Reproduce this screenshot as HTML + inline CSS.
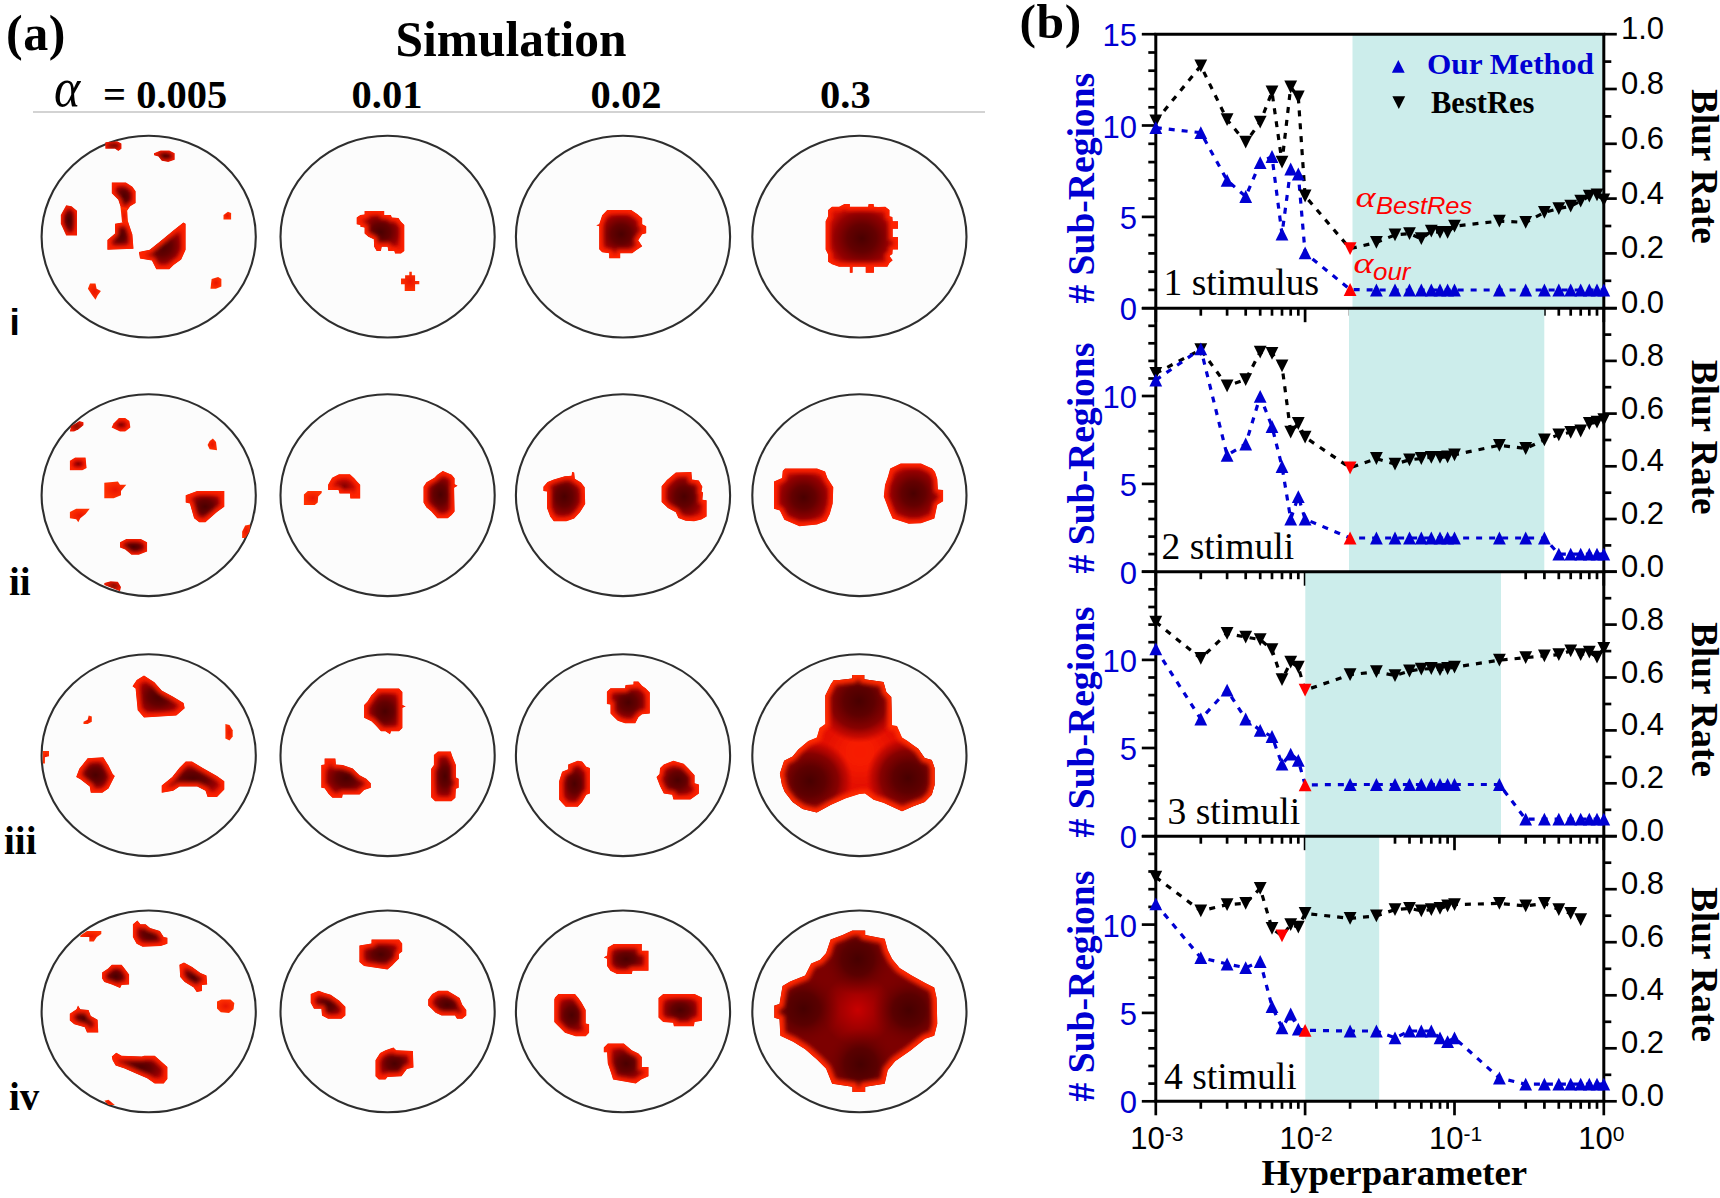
<!DOCTYPE html>
<html><head><meta charset="utf-8"><style>
html,body{margin:0;padding:0;background:#fff;overflow:hidden;}
svg{display:block;}
</style></head><body>
<svg width="1720" height="1198" viewBox="0 0 1720 1198">
<rect width="1720" height="1198" fill="#fff"/>
<defs><radialGradient id="gd" cx="50%" cy="50%" r="50%"><stop offset="0" stop-color="#4a0000"/><stop offset="0.4" stop-color="#640000"/><stop offset="0.75" stop-color="#940000"/><stop offset="1" stop-color="#cc0c00"/></radialGradient><radialGradient id="gm" cx="50%" cy="50%" r="50%"><stop offset="0" stop-color="#800000"/><stop offset="0.6" stop-color="#c80a00"/><stop offset="1" stop-color="#f82400"/></radialGradient><radialGradient id="gb" cx="50%" cy="50%" r="50%"><stop offset="0" stop-color="#e81400"/><stop offset="1" stop-color="#ff3000"/></radialGradient><radialGradient id="gl" cx="50%" cy="50%" r="50%"><stop offset="0" stop-color="#480000"/><stop offset="0.35" stop-color="#5e0000"/><stop offset="0.65" stop-color="#820000" stop-opacity="0.95"/><stop offset="0.85" stop-color="#a80000" stop-opacity="0.6"/><stop offset="1" stop-color="#c00000" stop-opacity="0"/></radialGradient><radialGradient id="gl2" cx="50%" cy="50%" r="50%"><stop offset="0" stop-color="#460000"/><stop offset="0.45" stop-color="#5a0000"/><stop offset="1" stop-color="#7c0000" stop-opacity="0"/></radialGradient><radialGradient id="gc" cx="50%" cy="50%" r="50%"><stop offset="0" stop-color="#c80000"/><stop offset="1" stop-color="#c80000" stop-opacity="0"/></radialGradient><filter id="fb" x="-30%" y="-30%" width="160%" height="160%"><feGaussianBlur stdDeviation="2.2"/></filter><filter id="fb2" x="-50%" y="-50%" width="200%" height="200%"><feGaussianBlur stdDeviation="8"/></filter></defs>
<ellipse cx="148.7" cy="236.65" rx="107.1" ry="100.9" fill="#fcfcfc" stroke="#2e2e2e" stroke-width="2.1"/>
<clipPath id="c1"><polygon points="105.3,142.3 117.2,141.2 121.5,143.4 121.5,148.8 118.3,151.0 115.0,148.8 105.3,148.8"/></clipPath><g clip-path="url(#c1)"><polygon points="105.3,142.3 117.2,141.2 121.5,143.4 121.5,148.8 118.3,151.0 115.0,148.8 105.3,148.8" fill="url(#gd)"/><polygon points="105.3,142.3 117.2,141.2 121.5,143.4 121.5,148.8 118.3,151.0 115.0,148.8 105.3,148.8" fill="none" stroke="#ff2400" stroke-width="3.0" filter="url(#fb)"/></g>
<clipPath id="c2"><polygon points="154.0,153.2 160.6,150.4 169.3,150.4 174.7,153.2 174.7,159.7 168.2,161.9 161.7,160.8 158.4,156.4 154.0,155.3"/></clipPath><g clip-path="url(#c2)"><polygon points="154.0,153.2 160.6,150.4 169.3,150.4 174.7,153.2 174.7,159.7 168.2,161.9 161.7,160.8 158.4,156.4 154.0,155.3" fill="url(#gd)"/><polygon points="154.0,153.2 160.6,150.4 169.3,150.4 174.7,153.2 174.7,159.7 168.2,161.9 161.7,160.8 158.4,156.4 154.0,155.3" fill="none" stroke="#ff2400" stroke-width="3.22" filter="url(#fb)"/></g>
<clipPath id="c3"><polygon points="111.8,182.5 125.9,182.5 132.4,186.8 135.6,191.2 135.6,203.1 130.2,206.3 127.0,210.7 121.5,209.6 118.3,199.8 111.8,193.3"/></clipPath><g clip-path="url(#c3)"><polygon points="111.8,182.5 125.9,182.5 132.4,186.8 135.6,191.2 135.6,203.1 130.2,206.3 127.0,210.7 121.5,209.6 118.3,199.8 111.8,193.3" fill="url(#gd)"/><polygon points="111.8,182.5 125.9,182.5 132.4,186.8 135.6,191.2 135.6,203.1 130.2,206.3 127.0,210.7 121.5,209.6 118.3,199.8 111.8,193.3" fill="none" stroke="#ff2400" stroke-width="6.664" filter="url(#fb)"/></g>
<polygon points="120.5,207.0 127.0,208.0 128.0,222.0 125.0,225.0 122.0,222.0" fill="url(#gb)"/>
<clipPath id="c5"><polygon points="115.0,223.7 128.0,221.5 132.4,234.6 133.5,248.7 107.4,249.8 107.4,240.0 115.0,233.5"/></clipPath><g clip-path="url(#c5)"><polygon points="115.0,223.7 128.0,221.5 132.4,234.6 133.5,248.7 107.4,249.8 107.4,240.0 115.0,233.5" fill="url(#gd)"/><polygon points="115.0,223.7 128.0,221.5 132.4,234.6 133.5,248.7 107.4,249.8 107.4,240.0 115.0,233.5" fill="none" stroke="#ff2400" stroke-width="7.307999999999999" filter="url(#fb)"/></g>
<clipPath id="c6"><polygon points="66.2,205.3 71.6,206.3 77.0,210.7 77.0,235.6 66.2,235.6 60.8,223.7 60.8,215.0"/></clipPath><g clip-path="url(#c6)"><polygon points="66.2,205.3 71.6,206.3 77.0,210.7 77.0,235.6 66.2,235.6 60.8,223.7 60.8,215.0" fill="url(#gd)"/><polygon points="66.2,205.3 71.6,206.3 77.0,210.7 77.0,235.6 66.2,235.6 60.8,223.7 60.8,215.0" fill="none" stroke="#ff2400" stroke-width="4.536000000000001" filter="url(#fb)"/></g>
<clipPath id="c7"><polygon points="183.4,222.6 185.6,223.7 185.6,249.8 181.2,259.5 173.6,264.9 169.3,269.3 156.3,269.3 151.9,260.6 140.0,258.4 138.9,251.9 149.7,249.8 160.6,241.1 173.6,230.2"/></clipPath><g clip-path="url(#c7)"><polygon points="183.4,222.6 185.6,223.7 185.6,249.8 181.2,259.5 173.6,264.9 169.3,269.3 156.3,269.3 151.9,260.6 140.0,258.4 138.9,251.9 149.7,249.8 160.6,241.1 173.6,230.2" fill="url(#gd)"/><polygon points="183.4,222.6 185.6,223.7 185.6,249.8 181.2,259.5 173.6,264.9 169.3,269.3 156.3,269.3 151.9,260.6 140.0,258.4 138.9,251.9 149.7,249.8 160.6,241.1 173.6,230.2" fill="none" stroke="#ff2400" stroke-width="8.0" filter="url(#fb)"/></g>
<polygon points="223.5,215.0 227.9,211.8 231.1,212.9 231.1,219.4 223.5,219.4" fill="url(#gb)"/>
<polygon points="90.0,283.4 95.5,283.4 96.6,288.8 100.9,291.0 97.7,295.3 95.5,299.7 92.2,295.3 87.9,288.8" fill="url(#gb)"/>
<polygon points="211.6,279.0 218.1,276.9 221.4,279.0 221.4,286.6 215.9,288.8 210.5,288.8" fill="url(#gb)"/>
<ellipse cx="387.6" cy="236.65" rx="107.1" ry="100.9" fill="#fcfcfc" stroke="#2e2e2e" stroke-width="2.1"/>
<clipPath id="c11"><polygon points="364.6,210.9 384.2,210.9 384.2,215.0 390.9,215.0 391.8,217.5 398.4,218.0 401.0,221.7 404.3,225.1 404.3,250.9 401.0,253.4 395.1,253.4 394.3,250.9 388.4,250.9 387.6,246.8 381.7,246.8 380.9,250.9 376.7,250.9 374.2,246.8 373.8,239.2 368.4,236.7 364.6,233.4 364.6,227.6 360.4,226.7 360.4,225.1 356.7,224.2 356.7,217.5 360.4,215.0 364.6,214.6"/></clipPath><g clip-path="url(#c11)"><polygon points="364.6,210.9 384.2,210.9 384.2,215.0 390.9,215.0 391.8,217.5 398.4,218.0 401.0,221.7 404.3,225.1 404.3,250.9 401.0,253.4 395.1,253.4 394.3,250.9 388.4,250.9 387.6,246.8 381.7,246.8 380.9,250.9 376.7,250.9 374.2,246.8 373.8,239.2 368.4,236.7 364.6,233.4 364.6,227.6 360.4,226.7 360.4,225.1 356.7,224.2 356.7,217.5 360.4,215.0 364.6,214.6" fill="url(#gd)"/><polygon points="364.6,210.9 384.2,210.9 384.2,215.0 390.9,215.0 391.8,217.5 398.4,218.0 401.0,221.7 404.3,225.1 404.3,250.9 401.0,253.4 395.1,253.4 394.3,250.9 388.4,250.9 387.6,246.8 381.7,246.8 380.9,250.9 376.7,250.9 374.2,246.8 373.8,239.2 368.4,236.7 364.6,233.4 364.6,227.6 360.4,226.7 360.4,225.1 356.7,224.2 356.7,217.5 360.4,215.0 364.6,214.6" fill="none" stroke="#ff2400" stroke-width="8.0" filter="url(#fb)"/></g>
<polygon points="405.1,275.2 409.3,275.2 409.3,271.8 411.8,271.8 411.8,275.2 415.1,275.2 415.1,281.0 419.3,281.0 419.3,284.3 415.1,284.3 415.1,291.0 404.7,291.0 404.7,284.3 401.0,284.3 401.0,278.5 405.1,278.5" fill="url(#gb)"/>
<ellipse cx="623.0" cy="236.65" rx="107.1" ry="100.9" fill="#fcfcfc" stroke="#2e2e2e" stroke-width="2.1"/>
<clipPath id="c13"><polygon points="607.2,210.1 631.2,210.1 637.2,214.1 642.2,218.2 642.2,224.2 646.2,226.2 646.2,233.2 642.2,234.2 638.2,240.2 642.2,246.2 636.2,250.2 632.2,253.2 620.2,253.2 620.2,258.2 609.2,258.2 609.2,253.2 602.2,252.2 599.2,249.2 599.2,226.2 596.2,225.2 599.2,224.2 602.2,215.2"/></clipPath><g clip-path="url(#c13)"><polygon points="607.2,210.1 631.2,210.1 637.2,214.1 642.2,218.2 642.2,224.2 646.2,226.2 646.2,233.2 642.2,234.2 638.2,240.2 642.2,246.2 636.2,250.2 632.2,253.2 620.2,253.2 620.2,258.2 609.2,258.2 609.2,253.2 602.2,252.2 599.2,249.2 599.2,226.2 596.2,225.2 599.2,224.2 602.2,215.2" fill="url(#gd)"/><polygon points="607.2,210.1 631.2,210.1 637.2,214.1 642.2,218.2 642.2,224.2 646.2,226.2 646.2,233.2 642.2,234.2 638.2,240.2 642.2,246.2 636.2,250.2 632.2,253.2 620.2,253.2 620.2,258.2 609.2,258.2 609.2,253.2 602.2,252.2 599.2,249.2 599.2,226.2 596.2,225.2 599.2,224.2 602.2,215.2" fill="none" stroke="#ff2400" stroke-width="8.0" filter="url(#fb)"/></g>
<ellipse cx="859.4" cy="236.65" rx="107.1" ry="100.9" fill="#fcfcfc" stroke="#2e2e2e" stroke-width="2.1"/>
<clipPath id="c14"><polygon points="828.1,209.9 832.0,206.7 839.1,206.7 844.5,203.9 849.8,203.9 849.8,206.7 868.2,206.7 868.6,203.9 873.6,203.9 873.9,206.7 878.2,207.1 885.3,206.7 889.5,209.9 889.5,216.3 892.4,217.0 892.7,221.3 898.0,221.3 898.0,228.7 892.7,228.7 892.7,236.9 898.0,236.9 898.0,249.6 892.7,249.6 892.4,253.9 889.5,256.0 892.7,260.3 889.5,263.1 887.4,266.7 873.9,266.7 873.9,272.7 865.7,272.7 865.7,266.7 852.6,266.7 852.6,272.7 849.8,272.7 849.8,266.7 839.1,266.7 832.0,264.2 828.1,261.7 828.1,254.6 825.6,249.6 825.6,221.3 828.1,216.3"/></clipPath><g clip-path="url(#c14)"><polygon points="828.1,209.9 832.0,206.7 839.1,206.7 844.5,203.9 849.8,203.9 849.8,206.7 868.2,206.7 868.6,203.9 873.6,203.9 873.9,206.7 878.2,207.1 885.3,206.7 889.5,209.9 889.5,216.3 892.4,217.0 892.7,221.3 898.0,221.3 898.0,228.7 892.7,228.7 892.7,236.9 898.0,236.9 898.0,249.6 892.7,249.6 892.4,253.9 889.5,256.0 892.7,260.3 889.5,263.1 887.4,266.7 873.9,266.7 873.9,272.7 865.7,272.7 865.7,266.7 852.6,266.7 852.6,272.7 849.8,272.7 849.8,266.7 839.1,266.7 832.0,264.2 828.1,261.7 828.1,254.6 825.6,249.6 825.6,221.3 828.1,216.3" fill="url(#gd)"/><polygon points="828.1,209.9 832.0,206.7 839.1,206.7 844.5,203.9 849.8,203.9 849.8,206.7 868.2,206.7 868.6,203.9 873.6,203.9 873.9,206.7 878.2,207.1 885.3,206.7 889.5,209.9 889.5,216.3 892.4,217.0 892.7,221.3 898.0,221.3 898.0,228.7 892.7,228.7 892.7,236.9 898.0,236.9 898.0,249.6 892.7,249.6 892.4,253.9 889.5,256.0 892.7,260.3 889.5,263.1 887.4,266.7 873.9,266.7 873.9,272.7 865.7,272.7 865.7,266.7 852.6,266.7 852.6,272.7 849.8,272.7 849.8,266.7 839.1,266.7 832.0,264.2 828.1,261.7 828.1,254.6 825.6,249.6 825.6,221.3 828.1,216.3" fill="none" stroke="#ff2400" stroke-width="8.0" filter="url(#fb)"/></g>
<ellipse cx="148.7" cy="495.2" rx="107.1" ry="100.9" fill="#fcfcfc" stroke="#2e2e2e" stroke-width="2.1"/>
<clipPath id="c15"><polygon points="71.0,426.3 79.3,421.1 83.5,422.2 83.5,425.3 78.3,429.5 74.1,431.6 69.9,431.6"/></clipPath><g clip-path="url(#c15)"><polygon points="71.0,426.3 79.3,421.1 83.5,422.2 83.5,425.3 78.3,429.5 74.1,431.6 69.9,431.6" fill="url(#gd)"/><polygon points="71.0,426.3 79.3,421.1 83.5,422.2 83.5,425.3 78.3,429.5 74.1,431.6 69.9,431.6" fill="none" stroke="#ff2400" stroke-width="3.0" filter="url(#fb)"/></g>
<clipPath id="c16"><polygon points="113.7,423.2 118.9,418.0 125.2,418.0 129.4,421.1 130.4,427.4 125.2,431.6 120.0,431.6 111.6,427.4"/></clipPath><g clip-path="url(#c16)"><polygon points="113.7,423.2 118.9,418.0 125.2,418.0 129.4,421.1 130.4,427.4 125.2,431.6 120.0,431.6 111.6,427.4" fill="url(#gm)"/><polygon points="113.7,423.2 118.9,418.0 125.2,418.0 129.4,421.1 130.4,427.4 125.2,431.6 120.0,431.6 111.6,427.4" fill="none" stroke="#ff2400" stroke-width="3.808000000000007" filter="url(#fb)"/></g>
<polygon points="209.7,441.0 212.9,438.4 216.0,442.0 217.0,450.3 209.7,449.3 207.6,445.1" fill="url(#gb)"/>
<clipPath id="c18"><polygon points="69.9,460.8 75.1,457.6 85.6,457.6 86.6,468.1 82.4,470.2 69.9,470.2"/></clipPath><g clip-path="url(#c18)"><polygon points="69.9,460.8 75.1,457.6 85.6,457.6 86.6,468.1 82.4,470.2 69.9,470.2" fill="url(#gm)"/><polygon points="69.9,460.8 75.1,457.6 85.6,457.6 86.6,468.1 82.4,470.2 69.9,470.2" fill="none" stroke="#ff2400" stroke-width="3.5279999999999907" filter="url(#fb)"/></g>
<polygon points="104.3,482.7 117.9,481.6 120.0,484.8 126.3,484.8 121.0,491.0 121.0,495.2 113.7,498.3 104.3,498.3" fill="url(#gb)"/>
<polygon points="69.9,511.9 76.2,508.8 89.7,508.8 85.6,514.0 80.3,518.2 78.3,522.3 76.2,519.2 69.9,518.2" fill="url(#gb)"/>
<clipPath id="c21"><polygon points="185.7,495.2 197.2,491.0 224.3,491.0 224.3,506.7 217.0,512.0 207.6,520.3 205.5,522.3 199.3,522.3 194.1,518.2 189.9,503.6 185.7,502.5"/></clipPath><g clip-path="url(#c21)"><polygon points="185.7,495.2 197.2,491.0 224.3,491.0 224.3,506.7 217.0,512.0 207.6,520.3 205.5,522.3 199.3,522.3 194.1,518.2 189.9,503.6 185.7,502.5" fill="url(#gd)"/><polygon points="185.7,495.2 197.2,491.0 224.3,491.0 224.3,506.7 217.0,512.0 207.6,520.3 205.5,522.3 199.3,522.3 194.1,518.2 189.9,503.6 185.7,502.5" fill="none" stroke="#ff2400" stroke-width="8.0" filter="url(#fb)"/></g>
<polygon points="245.2,525.5 250.4,524.4 249.4,531.7 245.2,538.0 242.1,538.0 242.1,531.7" fill="url(#gb)"/>
<clipPath id="c23"><polygon points="120.0,542.2 126.3,539.0 140.9,539.0 147.1,542.2 147.1,551.6 138.8,554.7 131.5,554.7 125.2,549.5 120.0,547.4"/></clipPath><g clip-path="url(#c23)"><polygon points="120.0,542.2 126.3,539.0 140.9,539.0 147.1,542.2 147.1,551.6 138.8,554.7 131.5,554.7 125.2,549.5 120.0,547.4" fill="url(#gd)"/><polygon points="120.0,542.2 126.3,539.0 140.9,539.0 147.1,542.2 147.1,551.6 138.8,554.7 131.5,554.7 125.2,549.5 120.0,547.4" fill="none" stroke="#ff2400" stroke-width="4.396000000000013" filter="url(#fb)"/></g>
<clipPath id="c24"><polygon points="104.3,582.9 110.6,581.2 117.9,581.8 121.0,587.0 120.0,591.2 104.3,585.0"/></clipPath><g clip-path="url(#c24)"><polygon points="104.3,582.9 110.6,581.2 117.9,581.8 121.0,587.0 120.0,591.2 104.3,585.0" fill="url(#gd)"/><polygon points="104.3,582.9 110.6,581.2 117.9,581.8 121.0,587.0 120.0,591.2 104.3,585.0" fill="none" stroke="#ff2400" stroke-width="3.0" filter="url(#fb)"/></g>
<ellipse cx="387.6" cy="495.2" rx="107.1" ry="100.9" fill="#fcfcfc" stroke="#2e2e2e" stroke-width="2.1"/>
<polygon points="303.9,494.6 307.8,491.1 321.7,491.1 321.7,493.1 318.2,496.6 317.7,502.5 314.8,505.0 303.9,505.0" fill="url(#gb)"/>
<clipPath id="c26"><polygon points="328.1,484.7 332.1,477.8 339.0,474.3 349.9,474.3 354.3,478.3 357.3,481.7 360.2,484.7 360.2,498.5 350.3,498.5 349.9,493.6 339.5,493.6 338.5,490.1 328.1,490.1"/></clipPath><g clip-path="url(#c26)"><polygon points="328.1,484.7 332.1,477.8 339.0,474.3 349.9,474.3 354.3,478.3 357.3,481.7 360.2,484.7 360.2,498.5 350.3,498.5 349.9,493.6 339.5,493.6 338.5,490.1 328.1,490.1" fill="url(#gm)"/><polygon points="328.1,484.7 332.1,477.8 339.0,474.3 349.9,474.3 354.3,478.3 357.3,481.7 360.2,484.7 360.2,498.5 350.3,498.5 349.9,493.6 339.5,493.6 338.5,490.1 328.1,490.1" fill="none" stroke="#ff2400" stroke-width="6.775999999999997" filter="url(#fb)"/></g>
<clipPath id="c27"><polygon points="442.8,470.9 451.7,474.8 454.6,478.3 454.6,484.2 457.6,485.7 454.1,487.7 454.6,511.4 451.7,514.9 447.7,518.3 437.3,518.3 431.4,511.4 426.5,507.4 423.5,502.5 423.5,486.7 426.5,482.2 434.4,477.8 437.3,474.8"/></clipPath><g clip-path="url(#c27)"><polygon points="442.8,470.9 451.7,474.8 454.6,478.3 454.6,484.2 457.6,485.7 454.1,487.7 454.6,511.4 451.7,514.9 447.7,518.3 437.3,518.3 431.4,511.4 426.5,507.4 423.5,502.5 423.5,486.7 426.5,482.2 434.4,477.8 437.3,474.8" fill="url(#gd)"/><polygon points="442.8,470.9 451.7,474.8 454.6,478.3 454.6,484.2 457.6,485.7 454.1,487.7 454.6,511.4 451.7,514.9 447.7,518.3 437.3,518.3 431.4,511.4 426.5,507.4 423.5,502.5 423.5,486.7 426.5,482.2 434.4,477.8 437.3,474.8" fill="none" stroke="#ff2400" stroke-width="8.0" filter="url(#fb)"/></g>
<ellipse cx="623.0" cy="495.2" rx="107.1" ry="100.9" fill="#fcfcfc" stroke="#2e2e2e" stroke-width="2.1"/>
<clipPath id="c28"><polygon points="543.4,486.7 547.6,482.0 553.8,479.4 564.8,476.2 571.6,475.7 572.1,472.0 574.2,472.6 574.8,478.8 581.0,482.5 584.7,487.2 585.2,504.0 580.0,512.3 574.2,518.6 566.4,521.2 553.8,521.2 550.2,516.5 547.0,508.1 547.0,491.4 543.4,490.9"/></clipPath><g clip-path="url(#c28)"><polygon points="543.4,486.7 547.6,482.0 553.8,479.4 564.8,476.2 571.6,475.7 572.1,472.0 574.2,472.6 574.8,478.8 581.0,482.5 584.7,487.2 585.2,504.0 580.0,512.3 574.2,518.6 566.4,521.2 553.8,521.2 550.2,516.5 547.0,508.1 547.0,491.4 543.4,490.9" fill="url(#gd)"/><polygon points="543.4,486.7 547.6,482.0 553.8,479.4 564.8,476.2 571.6,475.7 572.1,472.0 574.2,472.6 574.8,478.8 581.0,482.5 584.7,487.2 585.2,504.0 580.0,512.3 574.2,518.6 566.4,521.2 553.8,521.2 550.2,516.5 547.0,508.1 547.0,491.4 543.4,490.9" fill="none" stroke="#ff2400" stroke-width="8.0" filter="url(#fb)"/></g>
<clipPath id="c29"><polygon points="661.6,486.2 666.9,479.9 675.8,472.6 691.4,472.0 692.0,479.4 698.8,480.4 702.4,486.7 701.4,491.4 703.0,492.4 702.4,499.8 706.6,500.3 706.6,516.5 701.4,519.6 694.1,521.2 685.7,520.7 678.4,518.1 675.8,512.3 667.9,508.1 661.6,501.9"/></clipPath><g clip-path="url(#c29)"><polygon points="661.6,486.2 666.9,479.9 675.8,472.6 691.4,472.0 692.0,479.4 698.8,480.4 702.4,486.7 701.4,491.4 703.0,492.4 702.4,499.8 706.6,500.3 706.6,516.5 701.4,519.6 694.1,521.2 685.7,520.7 678.4,518.1 675.8,512.3 667.9,508.1 661.6,501.9" fill="url(#gd)"/><polygon points="661.6,486.2 666.9,479.9 675.8,472.6 691.4,472.0 692.0,479.4 698.8,480.4 702.4,486.7 701.4,491.4 703.0,492.4 702.4,499.8 706.6,500.3 706.6,516.5 701.4,519.6 694.1,521.2 685.7,520.7 678.4,518.1 675.8,512.3 667.9,508.1 661.6,501.9" fill="none" stroke="#ff2400" stroke-width="8.0" filter="url(#fb)"/></g>
<ellipse cx="859.4" cy="495.2" rx="107.1" ry="100.9" fill="#fcfcfc" stroke="#2e2e2e" stroke-width="2.1"/>
<clipPath id="c30"><polygon points="774.0,481.4 782.1,477.9 782.7,470.9 785.0,468.6 817.0,468.6 825.1,471.5 827.4,477.9 833.3,487.2 832.7,503.5 829.8,514.0 826.3,520.9 817.0,524.4 799.5,526.2 784.4,519.8 779.8,510.5 774.0,508.7"/></clipPath><g clip-path="url(#c30)"><polygon points="774.0,481.4 782.1,477.9 782.7,470.9 785.0,468.6 817.0,468.6 825.1,471.5 827.4,477.9 833.3,487.2 832.7,503.5 829.8,514.0 826.3,520.9 817.0,524.4 799.5,526.2 784.4,519.8 779.8,510.5 774.0,508.7" fill="url(#gd)"/><polygon points="774.0,481.4 782.1,477.9 782.7,470.9 785.0,468.6 817.0,468.6 825.1,471.5 827.4,477.9 833.3,487.2 832.7,503.5 829.8,514.0 826.3,520.9 817.0,524.4 799.5,526.2 784.4,519.8 779.8,510.5 774.0,508.7" fill="none" stroke="#ff2400" stroke-width="8.0" filter="url(#fb)"/></g>
<clipPath id="c31"><polygon points="890.2,468.6 900.7,463.4 921.0,463.4 932.1,468.6 935.0,472.1 937.3,479.1 937.9,489.5 943.1,490.1 943.1,501.2 937.3,504.7 934.4,518.6 921.0,523.3 908.8,523.8 892.6,518.6 889.1,510.5 883.8,496.5 885.0,484.9 887.9,476.7"/></clipPath><g clip-path="url(#c31)"><polygon points="890.2,468.6 900.7,463.4 921.0,463.4 932.1,468.6 935.0,472.1 937.3,479.1 937.9,489.5 943.1,490.1 943.1,501.2 937.3,504.7 934.4,518.6 921.0,523.3 908.8,523.8 892.6,518.6 889.1,510.5 883.8,496.5 885.0,484.9 887.9,476.7" fill="url(#gd)"/><polygon points="890.2,468.6 900.7,463.4 921.0,463.4 932.1,468.6 935.0,472.1 937.3,479.1 937.9,489.5 943.1,490.1 943.1,501.2 937.3,504.7 934.4,518.6 921.0,523.3 908.8,523.8 892.6,518.6 889.1,510.5 883.8,496.5 885.0,484.9 887.9,476.7" fill="none" stroke="#ff2400" stroke-width="8.0" filter="url(#fb)"/></g>
<ellipse cx="148.7" cy="755.2" rx="107.1" ry="100.9" fill="#fcfcfc" stroke="#2e2e2e" stroke-width="2.1"/>
<clipPath id="c32"><polygon points="136.7,680.1 144.0,675.5 154.4,682.2 161.7,690.5 173.2,696.8 183.6,703.0 184.7,708.3 176.3,715.6 144.0,717.6 137.7,710.3 135.6,688.4 132.5,686.3"/></clipPath><g clip-path="url(#c32)"><polygon points="136.7,680.1 144.0,675.5 154.4,682.2 161.7,690.5 173.2,696.8 183.6,703.0 184.7,708.3 176.3,715.6 144.0,717.6 137.7,710.3 135.6,688.4 132.5,686.3" fill="url(#gd)"/><polygon points="136.7,680.1 144.0,675.5 154.4,682.2 161.7,690.5 173.2,696.8 183.6,703.0 184.7,708.3 176.3,715.6 144.0,717.6 137.7,710.3 135.6,688.4 132.5,686.3" fill="none" stroke="#ff2400" stroke-width="8.0" filter="url(#fb)"/></g>
<polygon points="83.5,721.8 87.6,719.7 88.7,715.6 91.8,716.6 91.8,721.8 87.6,723.9 83.5,723.9" fill="url(#gb)"/>
<polygon points="225.4,723.9 229.5,725.0 232.7,730.2 232.7,736.4 229.5,740.6 225.4,738.5" fill="url(#gb)"/>
<polygon points="42.8,751.0 49.0,751.0 49.0,756.3 44.9,757.3 44.9,763.6 42.8,763.6" fill="url(#gb)"/>
<clipPath id="c36"><polygon points="87.6,758.3 103.3,757.3 108.5,765.6 112.7,774.0 114.8,776.1 108.5,788.6 102.3,792.8 90.8,792.8 89.7,786.5 80.3,779.2 76.2,777.1 79.3,768.8"/></clipPath><g clip-path="url(#c36)"><polygon points="87.6,758.3 103.3,757.3 108.5,765.6 112.7,774.0 114.8,776.1 108.5,788.6 102.3,792.8 90.8,792.8 89.7,786.5 80.3,779.2 76.2,777.1 79.3,768.8" fill="url(#gd)"/><polygon points="87.6,758.3 103.3,757.3 108.5,765.6 112.7,774.0 114.8,776.1 108.5,788.6 102.3,792.8 90.8,792.8 89.7,786.5 80.3,779.2 76.2,777.1 79.3,768.8" fill="none" stroke="#ff2400" stroke-width="8.0" filter="url(#fb)"/></g>
<clipPath id="c37"><polygon points="179.5,767.7 185.7,761.5 192.0,761.5 202.4,767.7 217.0,776.1 224.3,781.3 224.3,789.6 217.0,796.9 207.6,796.9 205.5,790.7 197.2,786.5 179.5,786.5 173.2,790.7 161.7,792.8 161.7,785.5 172.2,777.1"/></clipPath><g clip-path="url(#c37)"><polygon points="179.5,767.7 185.7,761.5 192.0,761.5 202.4,767.7 217.0,776.1 224.3,781.3 224.3,789.6 217.0,796.9 207.6,796.9 205.5,790.7 197.2,786.5 179.5,786.5 173.2,790.7 161.7,792.8 161.7,785.5 172.2,777.1" fill="url(#gd)"/><polygon points="179.5,767.7 185.7,761.5 192.0,761.5 202.4,767.7 217.0,776.1 224.3,781.3 224.3,789.6 217.0,796.9 207.6,796.9 205.5,790.7 197.2,786.5 179.5,786.5 173.2,790.7 161.7,792.8 161.7,785.5 172.2,777.1" fill="none" stroke="#ff2400" stroke-width="8.0" filter="url(#fb)"/></g>
<ellipse cx="387.6" cy="755.2" rx="107.1" ry="100.9" fill="#fcfcfc" stroke="#2e2e2e" stroke-width="2.1"/>
<clipPath id="c38"><polygon points="377.6,688.5 399.0,688.5 402.4,691.9 402.4,704.9 405.8,706.5 402.4,707.7 402.4,728.0 399.0,731.3 391.1,731.3 390.0,734.2 385.5,731.3 381.0,731.3 377.6,727.4 374.8,724.6 371.4,721.2 364.1,717.8 364.1,704.9 367.5,701.5 371.4,695.3 374.8,691.9"/></clipPath><g clip-path="url(#c38)"><polygon points="377.6,688.5 399.0,688.5 402.4,691.9 402.4,704.9 405.8,706.5 402.4,707.7 402.4,728.0 399.0,731.3 391.1,731.3 390.0,734.2 385.5,731.3 381.0,731.3 377.6,727.4 374.8,724.6 371.4,721.2 364.1,717.8 364.1,704.9 367.5,701.5 371.4,695.3 374.8,691.9" fill="url(#gd)"/><polygon points="377.6,688.5 399.0,688.5 402.4,691.9 402.4,704.9 405.8,706.5 402.4,707.7 402.4,728.0 399.0,731.3 391.1,731.3 390.0,734.2 385.5,731.3 381.0,731.3 377.6,727.4 374.8,724.6 371.4,721.2 364.1,717.8 364.1,704.9 367.5,701.5 371.4,695.3 374.8,691.9" fill="none" stroke="#ff2400" stroke-width="8.0" filter="url(#fb)"/></g>
<clipPath id="c39"><polygon points="324.6,758.4 335.4,758.4 335.9,764.6 342.7,765.1 352.8,768.5 356.2,771.9 359.6,775.3 366.3,778.7 370.8,783.2 370.8,787.7 364.1,789.9 359.6,794.4 342.7,794.4 342.1,797.8 332.5,797.8 328.6,793.9 324.6,788.2 321.3,787.7 321.3,765.1 324.6,764.6"/></clipPath><g clip-path="url(#c39)"><polygon points="324.6,758.4 335.4,758.4 335.9,764.6 342.7,765.1 352.8,768.5 356.2,771.9 359.6,775.3 366.3,778.7 370.8,783.2 370.8,787.7 364.1,789.9 359.6,794.4 342.7,794.4 342.1,797.8 332.5,797.8 328.6,793.9 324.6,788.2 321.3,787.7 321.3,765.1 324.6,764.6" fill="url(#gd)"/><polygon points="324.6,758.4 335.4,758.4 335.9,764.6 342.7,765.1 352.8,768.5 356.2,771.9 359.6,775.3 366.3,778.7 370.8,783.2 370.8,787.7 364.1,789.9 359.6,794.4 342.7,794.4 342.1,797.8 332.5,797.8 328.6,793.9 324.6,788.2 321.3,787.7 321.3,765.1 324.6,764.6" fill="none" stroke="#ff2400" stroke-width="8.0" filter="url(#fb)"/></g>
<clipPath id="c40"><polygon points="437.9,751.6 450.8,751.6 452.0,755.6 455.9,765.1 455.9,777.5 458.7,778.7 458.7,787.7 455.9,788.8 455.4,797.8 451.4,801.2 435.1,801.2 431.1,797.3 431.1,769.1 433.9,765.1 433.9,755.0"/></clipPath><g clip-path="url(#c40)"><polygon points="437.9,751.6 450.8,751.6 452.0,755.6 455.9,765.1 455.9,777.5 458.7,778.7 458.7,787.7 455.9,788.8 455.4,797.8 451.4,801.2 435.1,801.2 431.1,797.3 431.1,769.1 433.9,765.1 433.9,755.0" fill="url(#gd)"/><polygon points="437.9,751.6 450.8,751.6 452.0,755.6 455.9,765.1 455.9,777.5 458.7,778.7 458.7,787.7 455.9,788.8 455.4,797.8 451.4,801.2 435.1,801.2 431.1,797.3 431.1,769.1 433.9,765.1 433.9,755.0" fill="none" stroke="#ff2400" stroke-width="7.727999999999991" filter="url(#fb)"/></g>
<ellipse cx="623.0" cy="755.2" rx="107.1" ry="100.9" fill="#fcfcfc" stroke="#2e2e2e" stroke-width="2.1"/>
<clipPath id="c41"><polygon points="606.9,691.8 610.5,688.2 625.0,688.2 625.6,685.1 633.5,684.5 633.5,681.5 638.4,681.5 642.0,685.7 645.6,688.2 649.8,692.4 649.8,713.6 642.0,714.2 638.4,717.2 635.3,723.3 625.0,723.3 617.8,720.8 614.1,717.2 610.5,713.6 610.5,704.5 606.9,703.9"/></clipPath><g clip-path="url(#c41)"><polygon points="606.9,691.8 610.5,688.2 625.0,688.2 625.6,685.1 633.5,684.5 633.5,681.5 638.4,681.5 642.0,685.7 645.6,688.2 649.8,692.4 649.8,713.6 642.0,714.2 638.4,717.2 635.3,723.3 625.0,723.3 617.8,720.8 614.1,717.2 610.5,713.6 610.5,704.5 606.9,703.9" fill="url(#gd)"/><polygon points="606.9,691.8 610.5,688.2 625.0,688.2 625.6,685.1 633.5,684.5 633.5,681.5 638.4,681.5 642.0,685.7 645.6,688.2 649.8,692.4 649.8,713.6 642.0,714.2 638.4,717.2 635.3,723.3 625.0,723.3 617.8,720.8 614.1,717.2 610.5,713.6 610.5,704.5 606.9,703.9" fill="none" stroke="#ff2400" stroke-width="8.0" filter="url(#fb)"/></g>
<clipPath id="c42"><polygon points="568.2,764.4 577.8,760.8 582.1,761.4 586.3,766.8 589.9,768.0 589.9,793.4 586.3,794.7 582.1,801.9 577.8,806.8 565.7,806.8 562.1,803.1 559.1,799.5 559.1,781.3 562.1,771.7 568.2,769.2"/></clipPath><g clip-path="url(#c42)"><polygon points="568.2,764.4 577.8,760.8 582.1,761.4 586.3,766.8 589.9,768.0 589.9,793.4 586.3,794.7 582.1,801.9 577.8,806.8 565.7,806.8 562.1,803.1 559.1,799.5 559.1,781.3 562.1,771.7 568.2,769.2" fill="url(#gd)"/><polygon points="568.2,764.4 577.8,760.8 582.1,761.4 586.3,766.8 589.9,768.0 589.9,793.4 586.3,794.7 582.1,801.9 577.8,806.8 565.7,806.8 562.1,803.1 559.1,799.5 559.1,781.3 562.1,771.7 568.2,769.2" fill="none" stroke="#ff2400" stroke-width="8.0" filter="url(#fb)"/></g>
<clipPath id="c43"><polygon points="660.1,768.0 663.8,764.4 673.4,760.8 683.7,763.8 688.0,768.0 694.6,775.3 694.6,783.2 698.9,784.4 698.9,793.4 694.0,797.1 690.4,799.5 673.4,799.5 672.2,794.7 663.8,793.4 660.1,786.2 656.5,777.1 659.5,774.1"/></clipPath><g clip-path="url(#c43)"><polygon points="660.1,768.0 663.8,764.4 673.4,760.8 683.7,763.8 688.0,768.0 694.6,775.3 694.6,783.2 698.9,784.4 698.9,793.4 694.0,797.1 690.4,799.5 673.4,799.5 672.2,794.7 663.8,793.4 660.1,786.2 656.5,777.1 659.5,774.1" fill="url(#gd)"/><polygon points="660.1,768.0 663.8,764.4 673.4,760.8 683.7,763.8 688.0,768.0 694.6,775.3 694.6,783.2 698.9,784.4 698.9,793.4 694.0,797.1 690.4,799.5 673.4,799.5 672.2,794.7 663.8,793.4 660.1,786.2 656.5,777.1 659.5,774.1" fill="none" stroke="#ff2400" stroke-width="8.0" filter="url(#fb)"/></g>
<ellipse cx="859.4" cy="755.2" rx="107.1" ry="100.9" fill="#fcfcfc" stroke="#2e2e2e" stroke-width="2.1"/>
<ellipse cx="148.7" cy="1011.4" rx="107.1" ry="100.9" fill="#fcfcfc" stroke="#2e2e2e" stroke-width="2.1"/>
<polygon points="80.3,935.5 87.0,931.0 101.3,931.0 101.3,934.0 96.8,937.0 93.8,941.6 89.3,941.6 89.3,937.0 80.3,937.0" fill="url(#gb)"/>
<clipPath id="c45"><polygon points="132.9,924.3 137.4,920.5 140.4,924.3 145.6,924.3 150.1,928.0 159.9,931.0 163.7,937.0 167.4,937.8 167.4,943.8 160.7,946.1 142.6,946.8 136.6,943.8 132.9,937.0"/></clipPath><g clip-path="url(#c45)"><polygon points="132.9,924.3 137.4,920.5 140.4,924.3 145.6,924.3 150.1,928.0 159.9,931.0 163.7,937.0 167.4,937.8 167.4,943.8 160.7,946.1 142.6,946.8 136.6,943.8 132.9,937.0" fill="url(#gd)"/><polygon points="132.9,924.3 137.4,920.5 140.4,924.3 145.6,924.3 150.1,928.0 159.9,931.0 163.7,937.0 167.4,937.8 167.4,943.8 160.7,946.1 142.6,946.8 136.6,943.8 132.9,937.0" fill="none" stroke="#ff2400" stroke-width="7.363999999999988" filter="url(#fb)"/></g>
<clipPath id="c46"><polygon points="102.1,972.4 108.1,968.6 111.8,964.8 121.6,964.8 124.6,968.6 129.1,974.6 129.1,984.4 121.6,985.1 120.1,988.1 111.8,984.4 104.3,982.1 102.1,978.4"/></clipPath><g clip-path="url(#c46)"><polygon points="102.1,972.4 108.1,968.6 111.8,964.8 121.6,964.8 124.6,968.6 129.1,974.6 129.1,984.4 121.6,985.1 120.1,988.1 111.8,984.4 104.3,982.1 102.1,978.4" fill="url(#gd)"/><polygon points="102.1,972.4 108.1,968.6 111.8,964.8 121.6,964.8 124.6,968.6 129.1,974.6 129.1,984.4 121.6,985.1 120.1,988.1 111.8,984.4 104.3,982.1 102.1,978.4" fill="none" stroke="#ff2400" stroke-width="6.52400000000002" filter="url(#fb)"/></g>
<clipPath id="c47"><polygon points="179.4,964.8 184.0,962.6 192.2,967.1 200.5,973.1 206.5,975.4 207.2,984.4 202.0,985.1 202.0,991.1 196.7,991.9 193.7,987.4 184.7,982.1 180.2,976.9"/></clipPath><g clip-path="url(#c47)"><polygon points="179.4,964.8 184.0,962.6 192.2,967.1 200.5,973.1 206.5,975.4 207.2,984.4 202.0,985.1 202.0,991.1 196.7,991.9 193.7,987.4 184.7,982.1 180.2,976.9" fill="url(#gd)"/><polygon points="179.4,964.8 184.0,962.6 192.2,967.1 200.5,973.1 206.5,975.4 207.2,984.4 202.0,985.1 202.0,991.1 196.7,991.9 193.7,987.4 184.7,982.1 180.2,976.9" fill="none" stroke="#ff2400" stroke-width="7.783999999999996" filter="url(#fb)"/></g>
<polygon points="217.0,1001.6 221.5,999.4 230.5,999.4 234.3,1003.1 233.5,1009.2 229.0,1012.9 220.8,1012.2 217.0,1008.4" fill="url(#gb)"/>
<clipPath id="c49"><polygon points="69.8,1013.7 76.5,1009.2 78.0,1005.4 80.3,1009.2 88.5,1009.9 90.8,1015.9 97.6,1019.7 98.3,1032.4 87.0,1032.4 84.8,1027.2 74.3,1024.2 69.8,1020.4"/></clipPath><g clip-path="url(#c49)"><polygon points="69.8,1013.7 76.5,1009.2 78.0,1005.4 80.3,1009.2 88.5,1009.9 90.8,1015.9 97.6,1019.7 98.3,1032.4 87.0,1032.4 84.8,1027.2 74.3,1024.2 69.8,1020.4" fill="url(#gd)"/><polygon points="69.8,1013.7 76.5,1009.2 78.0,1005.4 80.3,1009.2 88.5,1009.9 90.8,1015.9 97.6,1019.7 98.3,1032.4 87.0,1032.4 84.8,1027.2 74.3,1024.2 69.8,1020.4" fill="none" stroke="#ff2400" stroke-width="7.5600000000000325" filter="url(#fb)"/></g>
<clipPath id="c50"><polygon points="111.8,1056.5 116.3,1052.7 121.6,1055.7 141.9,1056.5 144.1,1055.7 154.7,1055.7 159.9,1060.2 167.4,1067.0 167.4,1079.0 163.7,1083.5 154.7,1083.5 147.1,1078.3 136.6,1073.8 124.6,1068.5 115.6,1065.5 112.6,1060.2"/></clipPath><g clip-path="url(#c50)"><polygon points="111.8,1056.5 116.3,1052.7 121.6,1055.7 141.9,1056.5 144.1,1055.7 154.7,1055.7 159.9,1060.2 167.4,1067.0 167.4,1079.0 163.7,1083.5 154.7,1083.5 147.1,1078.3 136.6,1073.8 124.6,1068.5 115.6,1065.5 112.6,1060.2" fill="url(#gd)"/><polygon points="111.8,1056.5 116.3,1052.7 121.6,1055.7 141.9,1056.5 144.1,1055.7 154.7,1055.7 159.9,1060.2 167.4,1067.0 167.4,1079.0 163.7,1083.5 154.7,1083.5 147.1,1078.3 136.6,1073.8 124.6,1068.5 115.6,1065.5 112.6,1060.2" fill="none" stroke="#ff2400" stroke-width="8.0" filter="url(#fb)"/></g>
<polygon points="104.3,1100.8 108.5,1099.7 114.8,1104.9 108.5,1104.9" fill="url(#gb)"/>
<ellipse cx="387.6" cy="1011.4" rx="107.1" ry="100.9" fill="#fcfcfc" stroke="#2e2e2e" stroke-width="2.1"/>
<clipPath id="c52"><polygon points="359.4,945.4 371.5,943.4 371.5,939.4 398.9,939.4 402.2,943.4 402.2,951.4 398.9,954.0 398.9,958.7 395.5,962.1 392.2,965.4 387.5,969.4 364.1,966.1 359.4,962.1"/></clipPath><g clip-path="url(#c52)"><polygon points="359.4,945.4 371.5,943.4 371.5,939.4 398.9,939.4 402.2,943.4 402.2,951.4 398.9,954.0 398.9,958.7 395.5,962.1 392.2,965.4 387.5,969.4 364.1,966.1 359.4,962.1" fill="url(#gd)"/><polygon points="359.4,945.4 371.5,943.4 371.5,939.4 398.9,939.4 402.2,943.4 402.2,951.4 398.9,954.0 398.9,958.7 395.5,962.1 392.2,965.4 387.5,969.4 364.1,966.1 359.4,962.1" fill="none" stroke="#ff2400" stroke-width="8.0" filter="url(#fb)"/></g>
<clipPath id="c53"><polygon points="310.7,994.1 318.7,990.8 324.0,992.8 330.7,994.8 339.4,1000.8 345.4,1006.8 345.4,1015.5 341.4,1018.8 328.1,1018.8 322.0,1015.5 321.4,1008.8 314.0,1008.8 310.7,1002.8"/></clipPath><g clip-path="url(#c53)"><polygon points="310.7,994.1 318.7,990.8 324.0,992.8 330.7,994.8 339.4,1000.8 345.4,1006.8 345.4,1015.5 341.4,1018.8 328.1,1018.8 322.0,1015.5 321.4,1008.8 314.0,1008.8 310.7,1002.8" fill="url(#gd)"/><polygon points="310.7,994.1 318.7,990.8 324.0,992.8 330.7,994.8 339.4,1000.8 345.4,1006.8 345.4,1015.5 341.4,1018.8 328.1,1018.8 322.0,1015.5 321.4,1008.8 314.0,1008.8 310.7,1002.8" fill="none" stroke="#ff2400" stroke-width="7.840000000000001" filter="url(#fb)"/></g>
<clipPath id="c54"><polygon points="428.2,999.5 432.2,994.1 438.3,990.8 447.6,990.8 455.6,995.5 459.6,998.1 462.3,1004.8 466.3,1010.1 466.3,1015.5 462.3,1018.8 457.0,1018.8 455.0,1015.5 441.6,1015.5 435.6,1012.8 431.6,1008.8 428.2,1005.5"/></clipPath><g clip-path="url(#c54)"><polygon points="428.2,999.5 432.2,994.1 438.3,990.8 447.6,990.8 455.6,995.5 459.6,998.1 462.3,1004.8 466.3,1010.1 466.3,1015.5 462.3,1018.8 457.0,1018.8 455.0,1015.5 441.6,1015.5 435.6,1012.8 431.6,1008.8 428.2,1005.5" fill="url(#gd)"/><polygon points="428.2,999.5 432.2,994.1 438.3,990.8 447.6,990.8 455.6,995.5 459.6,998.1 462.3,1004.8 466.3,1010.1 466.3,1015.5 462.3,1018.8 457.0,1018.8 455.0,1015.5 441.6,1015.5 435.6,1012.8 431.6,1008.8 428.2,1005.5" fill="none" stroke="#ff2400" stroke-width="7.840000000000001" filter="url(#fb)"/></g>
<clipPath id="c55"><polygon points="380.1,1052.9 385.5,1050.2 393.5,1047.6 396.2,1050.2 412.9,1050.9 413.5,1067.6 406.9,1068.9 401.5,1076.3 387.5,1076.9 385.5,1079.6 378.8,1079.6 375.5,1076.3 375.5,1060.2"/></clipPath><g clip-path="url(#c55)"><polygon points="380.1,1052.9 385.5,1050.2 393.5,1047.6 396.2,1050.2 412.9,1050.9 413.5,1067.6 406.9,1068.9 401.5,1076.3 387.5,1076.9 385.5,1079.6 378.8,1079.6 375.5,1076.3 375.5,1060.2" fill="url(#gd)"/><polygon points="380.1,1052.9 385.5,1050.2 393.5,1047.6 396.2,1050.2 412.9,1050.9 413.5,1067.6 406.9,1068.9 401.5,1076.3 387.5,1076.9 385.5,1079.6 378.8,1079.6 375.5,1076.3 375.5,1060.2" fill="none" stroke="#ff2400" stroke-width="8.0" filter="url(#fb)"/></g>
<ellipse cx="623.0" cy="1011.4" rx="107.1" ry="100.9" fill="#fcfcfc" stroke="#2e2e2e" stroke-width="2.1"/>
<clipPath id="c56"><polygon points="607.8,947.4 613.8,944.0 641.8,944.0 641.8,950.7 648.5,950.7 648.5,970.7 632.5,970.7 631.8,974.1 617.1,974.1 610.4,970.7 607.1,966.1 607.1,958.7 603.8,957.4 607.1,955.4"/></clipPath><g clip-path="url(#c56)"><polygon points="607.8,947.4 613.8,944.0 641.8,944.0 641.8,950.7 648.5,950.7 648.5,970.7 632.5,970.7 631.8,974.1 617.1,974.1 610.4,970.7 607.1,966.1 607.1,958.7 603.8,957.4 607.1,955.4" fill="url(#gd)"/><polygon points="607.8,947.4 613.8,944.0 641.8,944.0 641.8,950.7 648.5,950.7 648.5,970.7 632.5,970.7 631.8,974.1 617.1,974.1 610.4,970.7 607.1,966.1 607.1,958.7 603.8,957.4 607.1,955.4" fill="none" stroke="#ff2400" stroke-width="8.0" filter="url(#fb)"/></g>
<clipPath id="c57"><polygon points="555.0,997.4 558.4,994.1 575.0,994.1 578.4,998.1 581.7,1002.8 585.7,1010.1 585.7,1023.5 589.1,1024.2 589.1,1032.8 585.7,1036.2 575.7,1036.2 565.0,1032.8 561.0,1028.8 557.7,1025.5 554.3,1022.1 554.3,999.4"/></clipPath><g clip-path="url(#c57)"><polygon points="555.0,997.4 558.4,994.1 575.0,994.1 578.4,998.1 581.7,1002.8 585.7,1010.1 585.7,1023.5 589.1,1024.2 589.1,1032.8 585.7,1036.2 575.7,1036.2 565.0,1032.8 561.0,1028.8 557.7,1025.5 554.3,1022.1 554.3,999.4" fill="url(#gd)"/><polygon points="555.0,997.4 558.4,994.1 575.0,994.1 578.4,998.1 581.7,1002.8 585.7,1010.1 585.7,1023.5 589.1,1024.2 589.1,1032.8 585.7,1036.2 575.7,1036.2 565.0,1032.8 561.0,1028.8 557.7,1025.5 554.3,1022.1 554.3,999.4" fill="none" stroke="#ff2400" stroke-width="8.0" filter="url(#fb)"/></g>
<clipPath id="c58"><polygon points="658.5,998.1 663.2,994.1 694.6,994.1 701.9,997.4 701.9,1020.8 694.6,1022.1 693.9,1026.2 673.9,1026.2 673.2,1022.8 663.2,1022.1 658.5,1017.5"/></clipPath><g clip-path="url(#c58)"><polygon points="658.5,998.1 663.2,994.1 694.6,994.1 701.9,997.4 701.9,1020.8 694.6,1022.1 693.9,1026.2 673.9,1026.2 673.2,1022.8 663.2,1022.1 658.5,1017.5" fill="url(#gd)"/><polygon points="658.5,998.1 663.2,994.1 694.6,994.1 701.9,997.4 701.9,1020.8 694.6,1022.1 693.9,1026.2 673.9,1026.2 673.2,1022.8 663.2,1022.1 658.5,1017.5" fill="none" stroke="#ff2400" stroke-width="8.0" filter="url(#fb)"/></g>
<clipPath id="c59"><polygon points="603.8,1047.5 607.8,1043.5 623.8,1043.5 627.1,1046.2 631.8,1050.2 638.5,1053.5 641.8,1056.9 641.8,1066.9 648.5,1066.9 648.5,1076.2 641.2,1079.6 635.8,1083.6 613.1,1079.6 611.1,1072.9 607.8,1063.5 607.1,1052.2 603.8,1052.2"/></clipPath><g clip-path="url(#c59)"><polygon points="603.8,1047.5 607.8,1043.5 623.8,1043.5 627.1,1046.2 631.8,1050.2 638.5,1053.5 641.8,1056.9 641.8,1066.9 648.5,1066.9 648.5,1076.2 641.2,1079.6 635.8,1083.6 613.1,1079.6 611.1,1072.9 607.8,1063.5 607.1,1052.2 603.8,1052.2" fill="url(#gd)"/><polygon points="603.8,1047.5 607.8,1043.5 623.8,1043.5 627.1,1046.2 631.8,1050.2 638.5,1053.5 641.8,1056.9 641.8,1066.9 648.5,1066.9 648.5,1076.2 641.2,1079.6 635.8,1083.6 613.1,1079.6 611.1,1072.9 607.8,1063.5 607.1,1052.2 603.8,1052.2" fill="none" stroke="#ff2400" stroke-width="8.0" filter="url(#fb)"/></g>
<ellipse cx="859.4" cy="1011.4" rx="107.1" ry="100.9" fill="#fcfcfc" stroke="#2e2e2e" stroke-width="2.1"/>
<clipPath id="ctre"><polygon points="852.3,674.9 864.3,674.9 864.3,679.2 883.5,682.0 886.3,692.0 891.3,696.9 892.0,725.3 897.0,726.0 902.0,737.4 907.6,740.9 913.3,745.2 918.3,748.7 924.7,758.0 931.8,760.0 934.6,767.9 934.6,784.9 931.8,794.8 924.7,802.0 913.3,806.2 902.0,811.2 883.5,802.7 873.6,799.8 865.0,793.4 859.4,794.1 845.2,798.4 831.0,804.8 816.8,812.6 802.6,809.0 792.6,802.0 784.8,792.0 782.0,784.9 779.9,773.6 784.1,760.8 792.6,756.5 798.3,749.4 808.3,740.9 816.8,737.4 819.6,728.1 825.3,723.9 825.3,695.5 831.0,684.1 833.8,679.9 839.5,679.9 852.3,678.5"/></clipPath>
<g clip-path="url(#ctre)"><polygon points="852.3,674.9 864.3,674.9 864.3,679.2 883.5,682.0 886.3,692.0 891.3,696.9 892.0,725.3 897.0,726.0 902.0,737.4 907.6,740.9 913.3,745.2 918.3,748.7 924.7,758.0 931.8,760.0 934.6,767.9 934.6,784.9 931.8,794.8 924.7,802.0 913.3,806.2 902.0,811.2 883.5,802.7 873.6,799.8 865.0,793.4 859.4,794.1 845.2,798.4 831.0,804.8 816.8,812.6 802.6,809.0 792.6,802.0 784.8,792.0 782.0,784.9 779.9,773.6 784.1,760.8 792.6,756.5 798.3,749.4 808.3,740.9 816.8,737.4 819.6,728.1 825.3,723.9 825.3,695.5 831.0,684.1 833.8,679.9 839.5,679.9 852.3,678.5" fill="#e41000"/><circle cx="860" cy="752" r="24" fill="#ff2200" opacity="0.7" filter="url(#fb2)"/>
<ellipse cx="859" cy="701" rx="43" ry="42" fill="url(#gl)"/>
<ellipse cx="810" cy="781" rx="43" ry="42" fill="url(#gl)"/>
<ellipse cx="908" cy="778" rx="42" ry="42" fill="url(#gl)"/>
<polygon points="852.3,674.9 864.3,674.9 864.3,679.2 883.5,682.0 886.3,692.0 891.3,696.9 892.0,725.3 897.0,726.0 902.0,737.4 907.6,740.9 913.3,745.2 918.3,748.7 924.7,758.0 931.8,760.0 934.6,767.9 934.6,784.9 931.8,794.8 924.7,802.0 913.3,806.2 902.0,811.2 883.5,802.7 873.6,799.8 865.0,793.4 859.4,794.1 845.2,798.4 831.0,804.8 816.8,812.6 802.6,809.0 792.6,802.0 784.8,792.0 782.0,784.9 779.9,773.6 784.1,760.8 792.6,756.5 798.3,749.4 808.3,740.9 816.8,737.4 819.6,728.1 825.3,723.9 825.3,695.5 831.0,684.1 833.8,679.9 839.5,679.9 852.3,678.5" fill="none" stroke="#ff2c00" stroke-width="9" filter="url(#fb)"/>
</g>
<clipPath id="ccro"><polygon points="852.4,930.5 865.2,930.5 865.2,935.0 884.7,938.8 887.7,950.0 892.2,959.0 899.7,968.1 911.8,975.6 925.3,983.1 934.3,987.6 936.6,998.1 937.3,1023.7 934.3,1035.7 925.3,1038.7 910.3,1050.7 895.2,1061.2 887.7,1070.3 884.7,1083.8 865.2,1086.8 865.2,1092.0 852.4,1092.0 852.4,1086.8 832.1,1083.8 826.1,1068.8 817.1,1059.7 805.1,1049.2 793.1,1041.7 780.3,1035.7 779.5,1019.2 774.3,1017.7 774.3,1005.6 779.5,1004.1 782.5,986.1 790.1,981.6 805.1,975.6 811.1,963.6 820.1,959.8 826.1,953.1 830.6,939.5 842.6,935.0"/></clipPath>
<g clip-path="url(#ccro)"><polygon points="852.4,930.5 865.2,930.5 865.2,935.0 884.7,938.8 887.7,950.0 892.2,959.0 899.7,968.1 911.8,975.6 925.3,983.1 934.3,987.6 936.6,998.1 937.3,1023.7 934.3,1035.7 925.3,1038.7 910.3,1050.7 895.2,1061.2 887.7,1070.3 884.7,1083.8 865.2,1086.8 865.2,1092.0 852.4,1092.0 852.4,1086.8 832.1,1083.8 826.1,1068.8 817.1,1059.7 805.1,1049.2 793.1,1041.7 780.3,1035.7 779.5,1019.2 774.3,1017.7 774.3,1005.6 779.5,1004.1 782.5,986.1 790.1,981.6 805.1,975.6 811.1,963.6 820.1,959.8 826.1,953.1 830.6,939.5 842.6,935.0" fill="#7c0000"/><circle cx="857.7" cy="1010" r="36" fill="url(#gc)"/>
<circle cx="857.7" cy="959" r="36" fill="url(#gl2)"/>
<circle cx="803.6" cy="1008.7" r="36" fill="url(#gl2)"/>
<circle cx="908.8" cy="1010.2" r="36" fill="url(#gl2)"/>
<circle cx="860.7" cy="1064.3" r="36" fill="url(#gl2)"/>
<polygon points="852.4,930.5 865.2,930.5 865.2,935.0 884.7,938.8 887.7,950.0 892.2,959.0 899.7,968.1 911.8,975.6 925.3,983.1 934.3,987.6 936.6,998.1 937.3,1023.7 934.3,1035.7 925.3,1038.7 910.3,1050.7 895.2,1061.2 887.7,1070.3 884.7,1083.8 865.2,1086.8 865.2,1092.0 852.4,1092.0 852.4,1086.8 832.1,1083.8 826.1,1068.8 817.1,1059.7 805.1,1049.2 793.1,1041.7 780.3,1035.7 779.5,1019.2 774.3,1017.7 774.3,1005.6 779.5,1004.1 782.5,986.1 790.1,981.6 805.1,975.6 811.1,963.6 820.1,959.8 826.1,953.1 830.6,939.5 842.6,935.0" fill="none" stroke="#ff2800" stroke-width="10" filter="url(#fb)"/>
</g>
<text x="6" y="50" font-family="'Liberation Serif', serif" font-weight="bold" font-size="50" letter-spacing="0.6">(a)</text>
<text transform="translate(395.5,56.3) scale(1.01,1.03)" font-family="'Liberation Serif', serif" font-weight="bold" font-size="49">Simulation</text>
<text transform="translate(54,105.5) scale(1,1.1)" font-family="'Liberation Serif', serif" font-style="italic" font-size="50">&#945;</text>
<text transform="translate(103,107.8) scale(1.0,1)" font-family="'Liberation Serif', serif" font-weight="bold" font-size="40.5">= 0.005</text>
<text transform="translate(351.5,107.8) scale(1.0,1)" font-family="'Liberation Serif', serif" font-weight="bold" font-size="40.5">0.01</text>
<text transform="translate(590.5,107.8) scale(1.0,1)" font-family="'Liberation Serif', serif" font-weight="bold" font-size="40.5">0.02</text>
<text transform="translate(820,107.8) scale(1.0,1)" font-family="'Liberation Serif', serif" font-weight="bold" font-size="40.5">0.3</text>
<line x1="33" y1="112" x2="985" y2="112" stroke="#c4c4c4" stroke-width="1.6"/>
<text x="9.5" y="334.5" font-family="'Liberation Sans', sans-serif" font-weight="bold" font-size="37">i</text>
<text x="9" y="594.8" font-family="'Liberation Serif', serif" font-weight="bold" font-size="39">ii</text>
<text x="4" y="854" font-family="'Liberation Serif', serif" font-weight="bold" font-size="39">iii</text>
<text x="9" y="1109.8" font-family="'Liberation Serif', serif" font-weight="bold" font-size="39">iv</text>
<line x1="1155.8" y1="308.2" x2="1155.8" y2="322.2" stroke="#000" stroke-width="2.7"/>
<line x1="1200.8" y1="308.2" x2="1200.8" y2="315.7" stroke="#000" stroke-width="2.7"/>
<line x1="1227.1" y1="308.2" x2="1227.1" y2="315.7" stroke="#000" stroke-width="2.7"/>
<line x1="1245.7" y1="308.2" x2="1245.7" y2="315.7" stroke="#000" stroke-width="2.7"/>
<line x1="1260.2" y1="308.2" x2="1260.2" y2="315.7" stroke="#000" stroke-width="2.7"/>
<line x1="1272.0" y1="308.2" x2="1272.0" y2="315.7" stroke="#000" stroke-width="2.7"/>
<line x1="1282.0" y1="308.2" x2="1282.0" y2="315.7" stroke="#000" stroke-width="2.7"/>
<line x1="1290.7" y1="308.2" x2="1290.7" y2="315.7" stroke="#000" stroke-width="2.7"/>
<line x1="1298.3" y1="308.2" x2="1298.3" y2="315.7" stroke="#000" stroke-width="2.7"/>
<line x1="1305.1" y1="308.2" x2="1305.1" y2="322.2" stroke="#000" stroke-width="2.7"/>
<line x1="1350.1" y1="308.2" x2="1350.1" y2="315.7" stroke="#000" stroke-width="2.7"/>
<line x1="1376.4" y1="308.2" x2="1376.4" y2="315.7" stroke="#000" stroke-width="2.7"/>
<line x1="1395.0" y1="308.2" x2="1395.0" y2="315.7" stroke="#000" stroke-width="2.7"/>
<line x1="1409.5" y1="308.2" x2="1409.5" y2="315.7" stroke="#000" stroke-width="2.7"/>
<line x1="1421.3" y1="308.2" x2="1421.3" y2="315.7" stroke="#000" stroke-width="2.7"/>
<line x1="1431.3" y1="308.2" x2="1431.3" y2="315.7" stroke="#000" stroke-width="2.7"/>
<line x1="1440.0" y1="308.2" x2="1440.0" y2="315.7" stroke="#000" stroke-width="2.7"/>
<line x1="1447.6" y1="308.2" x2="1447.6" y2="315.7" stroke="#000" stroke-width="2.7"/>
<line x1="1454.5" y1="308.2" x2="1454.5" y2="322.2" stroke="#000" stroke-width="2.7"/>
<line x1="1499.4" y1="308.2" x2="1499.4" y2="315.7" stroke="#000" stroke-width="2.7"/>
<line x1="1525.7" y1="308.2" x2="1525.7" y2="315.7" stroke="#000" stroke-width="2.7"/>
<line x1="1544.4" y1="308.2" x2="1544.4" y2="315.7" stroke="#000" stroke-width="2.7"/>
<line x1="1558.8" y1="308.2" x2="1558.8" y2="315.7" stroke="#000" stroke-width="2.7"/>
<line x1="1570.7" y1="308.2" x2="1570.7" y2="315.7" stroke="#000" stroke-width="2.7"/>
<line x1="1580.7" y1="308.2" x2="1580.7" y2="315.7" stroke="#000" stroke-width="2.7"/>
<line x1="1589.3" y1="308.2" x2="1589.3" y2="315.7" stroke="#000" stroke-width="2.7"/>
<line x1="1597.0" y1="308.2" x2="1597.0" y2="315.7" stroke="#000" stroke-width="2.7"/>
<line x1="1603.8" y1="308.2" x2="1603.8" y2="322.2" stroke="#000" stroke-width="2.7"/>
<line x1="1155.8" y1="571.7" x2="1155.8" y2="585.7" stroke="#000" stroke-width="2.7"/>
<line x1="1200.8" y1="571.7" x2="1200.8" y2="579.2" stroke="#000" stroke-width="2.7"/>
<line x1="1227.1" y1="571.7" x2="1227.1" y2="579.2" stroke="#000" stroke-width="2.7"/>
<line x1="1245.7" y1="571.7" x2="1245.7" y2="579.2" stroke="#000" stroke-width="2.7"/>
<line x1="1260.2" y1="571.7" x2="1260.2" y2="579.2" stroke="#000" stroke-width="2.7"/>
<line x1="1272.0" y1="571.7" x2="1272.0" y2="579.2" stroke="#000" stroke-width="2.7"/>
<line x1="1282.0" y1="571.7" x2="1282.0" y2="579.2" stroke="#000" stroke-width="2.7"/>
<line x1="1290.7" y1="571.7" x2="1290.7" y2="579.2" stroke="#000" stroke-width="2.7"/>
<line x1="1298.3" y1="571.7" x2="1298.3" y2="579.2" stroke="#000" stroke-width="2.7"/>
<line x1="1305.1" y1="571.7" x2="1305.1" y2="585.7" stroke="#000" stroke-width="2.7"/>
<line x1="1350.1" y1="571.7" x2="1350.1" y2="579.2" stroke="#000" stroke-width="2.7"/>
<line x1="1376.4" y1="571.7" x2="1376.4" y2="579.2" stroke="#000" stroke-width="2.7"/>
<line x1="1395.0" y1="571.7" x2="1395.0" y2="579.2" stroke="#000" stroke-width="2.7"/>
<line x1="1409.5" y1="571.7" x2="1409.5" y2="579.2" stroke="#000" stroke-width="2.7"/>
<line x1="1421.3" y1="571.7" x2="1421.3" y2="579.2" stroke="#000" stroke-width="2.7"/>
<line x1="1431.3" y1="571.7" x2="1431.3" y2="579.2" stroke="#000" stroke-width="2.7"/>
<line x1="1440.0" y1="571.7" x2="1440.0" y2="579.2" stroke="#000" stroke-width="2.7"/>
<line x1="1447.6" y1="571.7" x2="1447.6" y2="579.2" stroke="#000" stroke-width="2.7"/>
<line x1="1454.5" y1="571.7" x2="1454.5" y2="585.7" stroke="#000" stroke-width="2.7"/>
<line x1="1499.4" y1="571.7" x2="1499.4" y2="579.2" stroke="#000" stroke-width="2.7"/>
<line x1="1525.7" y1="571.7" x2="1525.7" y2="579.2" stroke="#000" stroke-width="2.7"/>
<line x1="1544.4" y1="571.7" x2="1544.4" y2="579.2" stroke="#000" stroke-width="2.7"/>
<line x1="1558.8" y1="571.7" x2="1558.8" y2="579.2" stroke="#000" stroke-width="2.7"/>
<line x1="1570.7" y1="571.7" x2="1570.7" y2="579.2" stroke="#000" stroke-width="2.7"/>
<line x1="1580.7" y1="571.7" x2="1580.7" y2="579.2" stroke="#000" stroke-width="2.7"/>
<line x1="1589.3" y1="571.7" x2="1589.3" y2="579.2" stroke="#000" stroke-width="2.7"/>
<line x1="1597.0" y1="571.7" x2="1597.0" y2="579.2" stroke="#000" stroke-width="2.7"/>
<line x1="1603.8" y1="571.7" x2="1603.8" y2="585.7" stroke="#000" stroke-width="2.7"/>
<line x1="1155.8" y1="836.2" x2="1155.8" y2="850.2" stroke="#000" stroke-width="2.7"/>
<line x1="1200.8" y1="836.2" x2="1200.8" y2="843.7" stroke="#000" stroke-width="2.7"/>
<line x1="1227.1" y1="836.2" x2="1227.1" y2="843.7" stroke="#000" stroke-width="2.7"/>
<line x1="1245.7" y1="836.2" x2="1245.7" y2="843.7" stroke="#000" stroke-width="2.7"/>
<line x1="1260.2" y1="836.2" x2="1260.2" y2="843.7" stroke="#000" stroke-width="2.7"/>
<line x1="1272.0" y1="836.2" x2="1272.0" y2="843.7" stroke="#000" stroke-width="2.7"/>
<line x1="1282.0" y1="836.2" x2="1282.0" y2="843.7" stroke="#000" stroke-width="2.7"/>
<line x1="1290.7" y1="836.2" x2="1290.7" y2="843.7" stroke="#000" stroke-width="2.7"/>
<line x1="1298.3" y1="836.2" x2="1298.3" y2="843.7" stroke="#000" stroke-width="2.7"/>
<line x1="1305.1" y1="836.2" x2="1305.1" y2="850.2" stroke="#000" stroke-width="2.7"/>
<line x1="1350.1" y1="836.2" x2="1350.1" y2="843.7" stroke="#000" stroke-width="2.7"/>
<line x1="1376.4" y1="836.2" x2="1376.4" y2="843.7" stroke="#000" stroke-width="2.7"/>
<line x1="1395.0" y1="836.2" x2="1395.0" y2="843.7" stroke="#000" stroke-width="2.7"/>
<line x1="1409.5" y1="836.2" x2="1409.5" y2="843.7" stroke="#000" stroke-width="2.7"/>
<line x1="1421.3" y1="836.2" x2="1421.3" y2="843.7" stroke="#000" stroke-width="2.7"/>
<line x1="1431.3" y1="836.2" x2="1431.3" y2="843.7" stroke="#000" stroke-width="2.7"/>
<line x1="1440.0" y1="836.2" x2="1440.0" y2="843.7" stroke="#000" stroke-width="2.7"/>
<line x1="1447.6" y1="836.2" x2="1447.6" y2="843.7" stroke="#000" stroke-width="2.7"/>
<line x1="1454.5" y1="836.2" x2="1454.5" y2="850.2" stroke="#000" stroke-width="2.7"/>
<line x1="1499.4" y1="836.2" x2="1499.4" y2="843.7" stroke="#000" stroke-width="2.7"/>
<line x1="1525.7" y1="836.2" x2="1525.7" y2="843.7" stroke="#000" stroke-width="2.7"/>
<line x1="1544.4" y1="836.2" x2="1544.4" y2="843.7" stroke="#000" stroke-width="2.7"/>
<line x1="1558.8" y1="836.2" x2="1558.8" y2="843.7" stroke="#000" stroke-width="2.7"/>
<line x1="1570.7" y1="836.2" x2="1570.7" y2="843.7" stroke="#000" stroke-width="2.7"/>
<line x1="1580.7" y1="836.2" x2="1580.7" y2="843.7" stroke="#000" stroke-width="2.7"/>
<line x1="1589.3" y1="836.2" x2="1589.3" y2="843.7" stroke="#000" stroke-width="2.7"/>
<line x1="1597.0" y1="836.2" x2="1597.0" y2="843.7" stroke="#000" stroke-width="2.7"/>
<line x1="1603.8" y1="836.2" x2="1603.8" y2="850.2" stroke="#000" stroke-width="2.7"/>
<line x1="1155.8" y1="1101.3" x2="1155.8" y2="1115.3" stroke="#000" stroke-width="2.7"/>
<line x1="1200.8" y1="1101.3" x2="1200.8" y2="1108.8" stroke="#000" stroke-width="2.7"/>
<line x1="1227.1" y1="1101.3" x2="1227.1" y2="1108.8" stroke="#000" stroke-width="2.7"/>
<line x1="1245.7" y1="1101.3" x2="1245.7" y2="1108.8" stroke="#000" stroke-width="2.7"/>
<line x1="1260.2" y1="1101.3" x2="1260.2" y2="1108.8" stroke="#000" stroke-width="2.7"/>
<line x1="1272.0" y1="1101.3" x2="1272.0" y2="1108.8" stroke="#000" stroke-width="2.7"/>
<line x1="1282.0" y1="1101.3" x2="1282.0" y2="1108.8" stroke="#000" stroke-width="2.7"/>
<line x1="1290.7" y1="1101.3" x2="1290.7" y2="1108.8" stroke="#000" stroke-width="2.7"/>
<line x1="1298.3" y1="1101.3" x2="1298.3" y2="1108.8" stroke="#000" stroke-width="2.7"/>
<line x1="1305.1" y1="1101.3" x2="1305.1" y2="1115.3" stroke="#000" stroke-width="2.7"/>
<line x1="1350.1" y1="1101.3" x2="1350.1" y2="1108.8" stroke="#000" stroke-width="2.7"/>
<line x1="1376.4" y1="1101.3" x2="1376.4" y2="1108.8" stroke="#000" stroke-width="2.7"/>
<line x1="1395.0" y1="1101.3" x2="1395.0" y2="1108.8" stroke="#000" stroke-width="2.7"/>
<line x1="1409.5" y1="1101.3" x2="1409.5" y2="1108.8" stroke="#000" stroke-width="2.7"/>
<line x1="1421.3" y1="1101.3" x2="1421.3" y2="1108.8" stroke="#000" stroke-width="2.7"/>
<line x1="1431.3" y1="1101.3" x2="1431.3" y2="1108.8" stroke="#000" stroke-width="2.7"/>
<line x1="1440.0" y1="1101.3" x2="1440.0" y2="1108.8" stroke="#000" stroke-width="2.7"/>
<line x1="1447.6" y1="1101.3" x2="1447.6" y2="1108.8" stroke="#000" stroke-width="2.7"/>
<line x1="1454.5" y1="1101.3" x2="1454.5" y2="1115.3" stroke="#000" stroke-width="2.7"/>
<line x1="1499.4" y1="1101.3" x2="1499.4" y2="1108.8" stroke="#000" stroke-width="2.7"/>
<line x1="1525.7" y1="1101.3" x2="1525.7" y2="1108.8" stroke="#000" stroke-width="2.7"/>
<line x1="1544.4" y1="1101.3" x2="1544.4" y2="1108.8" stroke="#000" stroke-width="2.7"/>
<line x1="1558.8" y1="1101.3" x2="1558.8" y2="1108.8" stroke="#000" stroke-width="2.7"/>
<line x1="1570.7" y1="1101.3" x2="1570.7" y2="1108.8" stroke="#000" stroke-width="2.7"/>
<line x1="1580.7" y1="1101.3" x2="1580.7" y2="1108.8" stroke="#000" stroke-width="2.7"/>
<line x1="1589.3" y1="1101.3" x2="1589.3" y2="1108.8" stroke="#000" stroke-width="2.7"/>
<line x1="1597.0" y1="1101.3" x2="1597.0" y2="1108.8" stroke="#000" stroke-width="2.7"/>
<line x1="1603.8" y1="1101.3" x2="1603.8" y2="1115.3" stroke="#000" stroke-width="2.7"/>
<rect x="1352.5" y="34.2" width="251.3" height="274.0" fill="#ccedeb"/>
<rect x="1349" y="308.2" width="195.3" height="263.5" fill="#ccedeb"/>
<rect x="1305.3" y="571.7" width="195.7" height="264.5" fill="#ccedeb"/>
<rect x="1305.3" y="836.2" width="73.9" height="265.1" fill="#ccedeb"/>
<line x1="1155.8" y1="34.2" x2="1155.8" y2="308.2" stroke="#000" stroke-width="3.0"/>
<line x1="1603.8" y1="34.2" x2="1603.8" y2="308.2" stroke="#000" stroke-width="3.0"/>
<line x1="1154.3" y1="308.2" x2="1605.3" y2="308.2" stroke="#000" stroke-width="3.0"/>
<line x1="1154.3" y1="34.2" x2="1605.3" y2="34.2" stroke="#000" stroke-width="3.0"/>
<line x1="1141.8" y1="308.2" x2="1155.8" y2="308.2" stroke="#000" stroke-width="2.7"/>
<line x1="1148.3" y1="289.9" x2="1155.8" y2="289.9" stroke="#000" stroke-width="2.7"/>
<line x1="1148.3" y1="271.7" x2="1155.8" y2="271.7" stroke="#000" stroke-width="2.7"/>
<line x1="1148.3" y1="253.4" x2="1155.8" y2="253.4" stroke="#000" stroke-width="2.7"/>
<line x1="1148.3" y1="235.1" x2="1155.8" y2="235.1" stroke="#000" stroke-width="2.7"/>
<line x1="1141.8" y1="216.9" x2="1155.8" y2="216.9" stroke="#000" stroke-width="2.7"/>
<line x1="1148.3" y1="198.6" x2="1155.8" y2="198.6" stroke="#000" stroke-width="2.7"/>
<line x1="1148.3" y1="180.3" x2="1155.8" y2="180.3" stroke="#000" stroke-width="2.7"/>
<line x1="1148.3" y1="162.1" x2="1155.8" y2="162.1" stroke="#000" stroke-width="2.7"/>
<line x1="1148.3" y1="143.8" x2="1155.8" y2="143.8" stroke="#000" stroke-width="2.7"/>
<line x1="1141.8" y1="125.5" x2="1155.8" y2="125.5" stroke="#000" stroke-width="2.7"/>
<line x1="1148.3" y1="107.3" x2="1155.8" y2="107.3" stroke="#000" stroke-width="2.7"/>
<line x1="1148.3" y1="89.0" x2="1155.8" y2="89.0" stroke="#000" stroke-width="2.7"/>
<line x1="1148.3" y1="70.7" x2="1155.8" y2="70.7" stroke="#000" stroke-width="2.7"/>
<line x1="1148.3" y1="52.5" x2="1155.8" y2="52.5" stroke="#000" stroke-width="2.7"/>
<line x1="1141.8" y1="34.2" x2="1155.8" y2="34.2" stroke="#000" stroke-width="2.7"/>
<line x1="1603.8" y1="308.2" x2="1616.8" y2="308.2" stroke="#000" stroke-width="2.7"/>
<line x1="1603.8" y1="280.8" x2="1611.3" y2="280.8" stroke="#000" stroke-width="2.7"/>
<line x1="1603.8" y1="253.4" x2="1616.8" y2="253.4" stroke="#000" stroke-width="2.7"/>
<line x1="1603.8" y1="226.0" x2="1611.3" y2="226.0" stroke="#000" stroke-width="2.7"/>
<line x1="1603.8" y1="198.6" x2="1616.8" y2="198.6" stroke="#000" stroke-width="2.7"/>
<line x1="1603.8" y1="171.2" x2="1611.3" y2="171.2" stroke="#000" stroke-width="2.7"/>
<line x1="1603.8" y1="143.8" x2="1616.8" y2="143.8" stroke="#000" stroke-width="2.7"/>
<line x1="1603.8" y1="116.4" x2="1611.3" y2="116.4" stroke="#000" stroke-width="2.7"/>
<line x1="1603.8" y1="89.0" x2="1616.8" y2="89.0" stroke="#000" stroke-width="2.7"/>
<line x1="1603.8" y1="61.6" x2="1611.3" y2="61.6" stroke="#000" stroke-width="2.7"/>
<line x1="1603.8" y1="34.2" x2="1616.8" y2="34.2" stroke="#000" stroke-width="2.7"/>
<text x="1137" y="320.2" text-anchor="end" font-family="'Liberation Sans', sans-serif" font-size="31" fill="#0000d2">0</text>
<text x="1137" y="228.9" text-anchor="end" font-family="'Liberation Sans', sans-serif" font-size="31" fill="#0000d2">5</text>
<text x="1137" y="137.5" text-anchor="end" font-family="'Liberation Sans', sans-serif" font-size="31" fill="#0000d2">10</text>
<text x="1137" y="46.2" text-anchor="end" font-family="'Liberation Sans', sans-serif" font-size="31" fill="#0000d2">15</text>
<text x="1621" y="313.2" font-family="'Liberation Sans', sans-serif" font-size="31" fill="#000">0.0</text>
<text x="1621" y="258.4" font-family="'Liberation Sans', sans-serif" font-size="31" fill="#000">0.2</text>
<text x="1621" y="203.6" font-family="'Liberation Sans', sans-serif" font-size="31" fill="#000">0.4</text>
<text x="1621" y="148.8" font-family="'Liberation Sans', sans-serif" font-size="31" fill="#000">0.6</text>
<text x="1621" y="94.0" font-family="'Liberation Sans', sans-serif" font-size="31" fill="#000">0.8</text>
<text x="1621" y="39.2" font-family="'Liberation Sans', sans-serif" font-size="31" fill="#000">1.0</text>
<line x1="1155.8" y1="308.2" x2="1155.8" y2="571.7" stroke="#000" stroke-width="3.0"/>
<line x1="1603.8" y1="308.2" x2="1603.8" y2="571.7" stroke="#000" stroke-width="3.0"/>
<line x1="1154.3" y1="571.7" x2="1605.3" y2="571.7" stroke="#000" stroke-width="3.0"/>
<line x1="1141.8" y1="571.7" x2="1155.8" y2="571.7" stroke="#000" stroke-width="2.7"/>
<line x1="1148.3" y1="554.1" x2="1155.8" y2="554.1" stroke="#000" stroke-width="2.7"/>
<line x1="1148.3" y1="536.6" x2="1155.8" y2="536.6" stroke="#000" stroke-width="2.7"/>
<line x1="1148.3" y1="519.0" x2="1155.8" y2="519.0" stroke="#000" stroke-width="2.7"/>
<line x1="1148.3" y1="501.4" x2="1155.8" y2="501.4" stroke="#000" stroke-width="2.7"/>
<line x1="1141.8" y1="483.9" x2="1155.8" y2="483.9" stroke="#000" stroke-width="2.7"/>
<line x1="1148.3" y1="466.3" x2="1155.8" y2="466.3" stroke="#000" stroke-width="2.7"/>
<line x1="1148.3" y1="448.7" x2="1155.8" y2="448.7" stroke="#000" stroke-width="2.7"/>
<line x1="1148.3" y1="431.2" x2="1155.8" y2="431.2" stroke="#000" stroke-width="2.7"/>
<line x1="1148.3" y1="413.6" x2="1155.8" y2="413.6" stroke="#000" stroke-width="2.7"/>
<line x1="1141.8" y1="396.0" x2="1155.8" y2="396.0" stroke="#000" stroke-width="2.7"/>
<line x1="1148.3" y1="378.5" x2="1155.8" y2="378.5" stroke="#000" stroke-width="2.7"/>
<line x1="1148.3" y1="360.9" x2="1155.8" y2="360.9" stroke="#000" stroke-width="2.7"/>
<line x1="1148.3" y1="343.3" x2="1155.8" y2="343.3" stroke="#000" stroke-width="2.7"/>
<line x1="1148.3" y1="325.8" x2="1155.8" y2="325.8" stroke="#000" stroke-width="2.7"/>
<line x1="1141.8" y1="308.2" x2="1155.8" y2="308.2" stroke="#000" stroke-width="2.7"/>
<line x1="1603.8" y1="571.7" x2="1616.8" y2="571.7" stroke="#000" stroke-width="2.7"/>
<line x1="1603.8" y1="545.4" x2="1611.3" y2="545.4" stroke="#000" stroke-width="2.7"/>
<line x1="1603.8" y1="519.0" x2="1616.8" y2="519.0" stroke="#000" stroke-width="2.7"/>
<line x1="1603.8" y1="492.7" x2="1611.3" y2="492.7" stroke="#000" stroke-width="2.7"/>
<line x1="1603.8" y1="466.3" x2="1616.8" y2="466.3" stroke="#000" stroke-width="2.7"/>
<line x1="1603.8" y1="440.0" x2="1611.3" y2="440.0" stroke="#000" stroke-width="2.7"/>
<line x1="1603.8" y1="413.6" x2="1616.8" y2="413.6" stroke="#000" stroke-width="2.7"/>
<line x1="1603.8" y1="387.2" x2="1611.3" y2="387.2" stroke="#000" stroke-width="2.7"/>
<line x1="1603.8" y1="360.9" x2="1616.8" y2="360.9" stroke="#000" stroke-width="2.7"/>
<line x1="1603.8" y1="334.6" x2="1611.3" y2="334.6" stroke="#000" stroke-width="2.7"/>
<line x1="1603.8" y1="308.2" x2="1616.8" y2="308.2" stroke="#000" stroke-width="2.7"/>
<text x="1137" y="583.7" text-anchor="end" font-family="'Liberation Sans', sans-serif" font-size="31" fill="#0000d2">0</text>
<text x="1137" y="495.9" text-anchor="end" font-family="'Liberation Sans', sans-serif" font-size="31" fill="#0000d2">5</text>
<text x="1137" y="408.0" text-anchor="end" font-family="'Liberation Sans', sans-serif" font-size="31" fill="#0000d2">10</text>
<text x="1621" y="576.7" font-family="'Liberation Sans', sans-serif" font-size="31" fill="#000">0.0</text>
<text x="1621" y="524.0" font-family="'Liberation Sans', sans-serif" font-size="31" fill="#000">0.2</text>
<text x="1621" y="471.3" font-family="'Liberation Sans', sans-serif" font-size="31" fill="#000">0.4</text>
<text x="1621" y="418.6" font-family="'Liberation Sans', sans-serif" font-size="31" fill="#000">0.6</text>
<text x="1621" y="365.9" font-family="'Liberation Sans', sans-serif" font-size="31" fill="#000">0.8</text>
<line x1="1155.8" y1="571.7" x2="1155.8" y2="836.2" stroke="#000" stroke-width="3.0"/>
<line x1="1603.8" y1="571.7" x2="1603.8" y2="836.2" stroke="#000" stroke-width="3.0"/>
<line x1="1154.3" y1="836.2" x2="1605.3" y2="836.2" stroke="#000" stroke-width="3.0"/>
<line x1="1141.8" y1="836.2" x2="1155.8" y2="836.2" stroke="#000" stroke-width="2.7"/>
<line x1="1148.3" y1="818.6" x2="1155.8" y2="818.6" stroke="#000" stroke-width="2.7"/>
<line x1="1148.3" y1="800.9" x2="1155.8" y2="800.9" stroke="#000" stroke-width="2.7"/>
<line x1="1148.3" y1="783.3" x2="1155.8" y2="783.3" stroke="#000" stroke-width="2.7"/>
<line x1="1148.3" y1="765.7" x2="1155.8" y2="765.7" stroke="#000" stroke-width="2.7"/>
<line x1="1141.8" y1="748.0" x2="1155.8" y2="748.0" stroke="#000" stroke-width="2.7"/>
<line x1="1148.3" y1="730.4" x2="1155.8" y2="730.4" stroke="#000" stroke-width="2.7"/>
<line x1="1148.3" y1="712.8" x2="1155.8" y2="712.8" stroke="#000" stroke-width="2.7"/>
<line x1="1148.3" y1="695.1" x2="1155.8" y2="695.1" stroke="#000" stroke-width="2.7"/>
<line x1="1148.3" y1="677.5" x2="1155.8" y2="677.5" stroke="#000" stroke-width="2.7"/>
<line x1="1141.8" y1="659.9" x2="1155.8" y2="659.9" stroke="#000" stroke-width="2.7"/>
<line x1="1148.3" y1="642.2" x2="1155.8" y2="642.2" stroke="#000" stroke-width="2.7"/>
<line x1="1148.3" y1="624.6" x2="1155.8" y2="624.6" stroke="#000" stroke-width="2.7"/>
<line x1="1148.3" y1="607.0" x2="1155.8" y2="607.0" stroke="#000" stroke-width="2.7"/>
<line x1="1148.3" y1="589.3" x2="1155.8" y2="589.3" stroke="#000" stroke-width="2.7"/>
<line x1="1141.8" y1="571.7" x2="1155.8" y2="571.7" stroke="#000" stroke-width="2.7"/>
<line x1="1603.8" y1="836.2" x2="1616.8" y2="836.2" stroke="#000" stroke-width="2.7"/>
<line x1="1603.8" y1="809.8" x2="1611.3" y2="809.8" stroke="#000" stroke-width="2.7"/>
<line x1="1603.8" y1="783.3" x2="1616.8" y2="783.3" stroke="#000" stroke-width="2.7"/>
<line x1="1603.8" y1="756.9" x2="1611.3" y2="756.9" stroke="#000" stroke-width="2.7"/>
<line x1="1603.8" y1="730.4" x2="1616.8" y2="730.4" stroke="#000" stroke-width="2.7"/>
<line x1="1603.8" y1="704.0" x2="1611.3" y2="704.0" stroke="#000" stroke-width="2.7"/>
<line x1="1603.8" y1="677.5" x2="1616.8" y2="677.5" stroke="#000" stroke-width="2.7"/>
<line x1="1603.8" y1="651.1" x2="1611.3" y2="651.1" stroke="#000" stroke-width="2.7"/>
<line x1="1603.8" y1="624.6" x2="1616.8" y2="624.6" stroke="#000" stroke-width="2.7"/>
<line x1="1603.8" y1="598.2" x2="1611.3" y2="598.2" stroke="#000" stroke-width="2.7"/>
<line x1="1603.8" y1="571.7" x2="1616.8" y2="571.7" stroke="#000" stroke-width="2.7"/>
<text x="1137" y="848.2" text-anchor="end" font-family="'Liberation Sans', sans-serif" font-size="31" fill="#0000d2">0</text>
<text x="1137" y="760.0" text-anchor="end" font-family="'Liberation Sans', sans-serif" font-size="31" fill="#0000d2">5</text>
<text x="1137" y="671.9" text-anchor="end" font-family="'Liberation Sans', sans-serif" font-size="31" fill="#0000d2">10</text>
<text x="1621" y="841.2" font-family="'Liberation Sans', sans-serif" font-size="31" fill="#000">0.0</text>
<text x="1621" y="788.3" font-family="'Liberation Sans', sans-serif" font-size="31" fill="#000">0.2</text>
<text x="1621" y="735.4" font-family="'Liberation Sans', sans-serif" font-size="31" fill="#000">0.4</text>
<text x="1621" y="682.5" font-family="'Liberation Sans', sans-serif" font-size="31" fill="#000">0.6</text>
<text x="1621" y="629.6" font-family="'Liberation Sans', sans-serif" font-size="31" fill="#000">0.8</text>
<line x1="1155.8" y1="836.2" x2="1155.8" y2="1101.3" stroke="#000" stroke-width="3.0"/>
<line x1="1603.8" y1="836.2" x2="1603.8" y2="1101.3" stroke="#000" stroke-width="3.0"/>
<line x1="1154.3" y1="1101.3" x2="1605.3" y2="1101.3" stroke="#000" stroke-width="3.0"/>
<line x1="1141.8" y1="1101.3" x2="1155.8" y2="1101.3" stroke="#000" stroke-width="2.7"/>
<line x1="1148.3" y1="1083.6" x2="1155.8" y2="1083.6" stroke="#000" stroke-width="2.7"/>
<line x1="1148.3" y1="1066.0" x2="1155.8" y2="1066.0" stroke="#000" stroke-width="2.7"/>
<line x1="1148.3" y1="1048.3" x2="1155.8" y2="1048.3" stroke="#000" stroke-width="2.7"/>
<line x1="1148.3" y1="1030.6" x2="1155.8" y2="1030.6" stroke="#000" stroke-width="2.7"/>
<line x1="1141.8" y1="1012.9" x2="1155.8" y2="1012.9" stroke="#000" stroke-width="2.7"/>
<line x1="1148.3" y1="995.3" x2="1155.8" y2="995.3" stroke="#000" stroke-width="2.7"/>
<line x1="1148.3" y1="977.6" x2="1155.8" y2="977.6" stroke="#000" stroke-width="2.7"/>
<line x1="1148.3" y1="959.9" x2="1155.8" y2="959.9" stroke="#000" stroke-width="2.7"/>
<line x1="1148.3" y1="942.2" x2="1155.8" y2="942.2" stroke="#000" stroke-width="2.7"/>
<line x1="1141.8" y1="924.6" x2="1155.8" y2="924.6" stroke="#000" stroke-width="2.7"/>
<line x1="1148.3" y1="906.9" x2="1155.8" y2="906.9" stroke="#000" stroke-width="2.7"/>
<line x1="1148.3" y1="889.2" x2="1155.8" y2="889.2" stroke="#000" stroke-width="2.7"/>
<line x1="1148.3" y1="871.5" x2="1155.8" y2="871.5" stroke="#000" stroke-width="2.7"/>
<line x1="1148.3" y1="853.9" x2="1155.8" y2="853.9" stroke="#000" stroke-width="2.7"/>
<line x1="1141.8" y1="836.2" x2="1155.8" y2="836.2" stroke="#000" stroke-width="2.7"/>
<line x1="1603.8" y1="1101.3" x2="1616.8" y2="1101.3" stroke="#000" stroke-width="2.7"/>
<line x1="1603.8" y1="1074.8" x2="1611.3" y2="1074.8" stroke="#000" stroke-width="2.7"/>
<line x1="1603.8" y1="1048.3" x2="1616.8" y2="1048.3" stroke="#000" stroke-width="2.7"/>
<line x1="1603.8" y1="1021.8" x2="1611.3" y2="1021.8" stroke="#000" stroke-width="2.7"/>
<line x1="1603.8" y1="995.3" x2="1616.8" y2="995.3" stroke="#000" stroke-width="2.7"/>
<line x1="1603.8" y1="968.8" x2="1611.3" y2="968.8" stroke="#000" stroke-width="2.7"/>
<line x1="1603.8" y1="942.2" x2="1616.8" y2="942.2" stroke="#000" stroke-width="2.7"/>
<line x1="1603.8" y1="915.7" x2="1611.3" y2="915.7" stroke="#000" stroke-width="2.7"/>
<line x1="1603.8" y1="889.2" x2="1616.8" y2="889.2" stroke="#000" stroke-width="2.7"/>
<line x1="1603.8" y1="862.7" x2="1611.3" y2="862.7" stroke="#000" stroke-width="2.7"/>
<line x1="1603.8" y1="836.2" x2="1616.8" y2="836.2" stroke="#000" stroke-width="2.7"/>
<text x="1137" y="1113.3" text-anchor="end" font-family="'Liberation Sans', sans-serif" font-size="31" fill="#0000d2">0</text>
<text x="1137" y="1024.9" text-anchor="end" font-family="'Liberation Sans', sans-serif" font-size="31" fill="#0000d2">5</text>
<text x="1137" y="936.6" text-anchor="end" font-family="'Liberation Sans', sans-serif" font-size="31" fill="#0000d2">10</text>
<text x="1621" y="1106.3" font-family="'Liberation Sans', sans-serif" font-size="31" fill="#000">0.0</text>
<text x="1621" y="1053.3" font-family="'Liberation Sans', sans-serif" font-size="31" fill="#000">0.2</text>
<text x="1621" y="1000.3" font-family="'Liberation Sans', sans-serif" font-size="31" fill="#000">0.4</text>
<text x="1621" y="947.2" font-family="'Liberation Sans', sans-serif" font-size="31" fill="#000">0.6</text>
<text x="1621" y="894.2" font-family="'Liberation Sans', sans-serif" font-size="31" fill="#000">0.8</text>
<polyline points="1155.8,121.0 1200.8,65.8 1227.1,119.7 1245.7,142.2 1260.2,122.2 1272.0,92.0 1282.0,162.2 1290.7,87.0 1298.3,97.0 1305.1,196.0 1350.1,248.7 1376.4,242.4 1395.0,234.9 1409.5,233.7 1421.3,238.7 1431.3,231.2 1440.0,232.4 1447.6,232.4 1454.5,226.1 1499.4,221.1 1525.7,222.4 1544.4,212.4 1558.8,208.6 1570.7,206.1 1580.7,201.1 1589.3,196.1 1597.0,194.9 1603.8,199.9" fill="none" stroke="#000" stroke-width="3.2" stroke-dasharray="6 7"/>
<polyline points="1155.8,127.7 1200.8,132.7 1227.1,180.3 1245.7,196.5 1260.2,162.7 1272.0,156.5 1282.0,234.0 1290.7,169.0 1298.3,174.0 1305.1,252.9 1350.1,289.5 1376.4,290.0 1395.0,290.0 1409.5,290.0 1421.3,290.0 1431.3,290.0 1440.0,290.0 1447.6,290.0 1454.5,290.0 1499.4,290.0 1525.7,290.0 1544.4,290.0 1558.8,290.0 1570.7,290.0 1580.7,290.0 1589.3,290.0 1597.0,290.0 1603.8,290.0" fill="none" stroke="#0000d2" stroke-width="3.2" stroke-dasharray="6 7"/>
<polyline points="1155.8,373.4 1200.8,349.6 1227.1,385.9 1245.7,379.6 1260.2,352.1 1272.0,353.3 1282.0,365.9 1290.7,432.2 1298.3,423.5 1305.1,437.2 1350.1,467.8 1376.4,458.5 1395.0,464.2 1409.5,459.8 1421.3,458.5 1431.3,457.3 1440.0,457.3 1447.6,456.8 1454.5,454.8 1499.4,445.3 1525.7,448.5 1544.4,439.8 1558.8,434.8 1570.7,432.3 1580.7,431.0 1589.3,423.5 1597.0,422.2 1603.8,419.7" fill="none" stroke="#000" stroke-width="3.2" stroke-dasharray="6 7"/>
<polyline points="1155.8,380.1 1200.8,348.8 1227.1,455.3 1245.7,444.0 1260.2,396.4 1272.0,426.5 1282.0,466.5 1290.7,519.1 1298.3,496.6 1305.1,519.1 1350.1,538.0 1376.4,538.0 1395.0,538.0 1409.5,538.0 1421.3,538.0 1431.3,538.0 1440.0,538.0 1447.6,538.0 1454.5,538.0 1499.4,538.0 1525.7,538.0 1544.4,538.0 1558.8,554.2 1570.7,554.2 1580.7,554.2 1589.3,554.2 1597.0,554.2 1603.8,554.2" fill="none" stroke="#0000d2" stroke-width="3.2" stroke-dasharray="6 7"/>
<polyline points="1155.8,622.1 1200.8,658.4 1227.1,633.4 1245.7,637.1 1260.2,639.6 1272.0,649.6 1282.0,679.7 1290.7,662.2 1298.3,667.2 1305.1,690.2 1350.1,674.7 1376.4,671.7 1395.0,675.6 1409.5,671.0 1421.3,669.2 1431.3,668.5 1440.0,669.7 1447.6,668.5 1454.5,667.2 1499.4,660.2 1525.7,657.7 1544.4,655.9 1558.8,654.7 1570.7,650.9 1580.7,654.7 1589.3,652.2 1597.0,657.2 1603.8,648.4" fill="none" stroke="#000" stroke-width="3.2" stroke-dasharray="6 7"/>
<polyline points="1155.8,648.9 1200.8,719.0 1227.1,690.2 1245.7,719.0 1260.2,730.3 1272.0,736.5 1282.0,764.1 1290.7,754.1 1298.3,760.3 1305.1,784.9 1350.1,784.5 1376.4,784.5 1395.0,784.5 1409.5,784.5 1421.3,784.5 1431.3,784.5 1440.0,784.5 1447.6,784.5 1454.5,784.5 1499.4,784.5 1525.7,819.2 1544.4,819.2 1558.8,819.2 1570.7,819.2 1580.7,819.2 1589.3,819.2 1597.0,819.2 1603.8,819.2" fill="none" stroke="#0000d2" stroke-width="3.2" stroke-dasharray="6 7"/>
<polyline points="1155.8,877.1 1200.8,910.9 1227.1,904.6 1245.7,903.4 1260.2,888.3 1272.0,928.4 1282.0,935.9 1290.7,924.7 1298.3,927.2 1305.1,913.4 1350.1,918.4 1376.4,915.9 1395.0,909.6 1409.5,908.4 1421.3,910.9 1431.3,909.6 1440.0,908.4 1447.6,905.9 1454.5,904.6 1499.4,903.4 1525.7,905.9 1544.4,903.4 1558.8,909.6 1570.7,913.4 1580.7,919.7" fill="none" stroke="#000" stroke-width="3.2" stroke-dasharray="6 7"/>
<polyline points="1155.8,903.9 1200.8,957.7 1227.1,964.0 1245.7,967.7 1260.2,961.5 1272.0,1006.5 1282.0,1027.8 1290.7,1014.0 1298.3,1029.1 1305.1,1030.3 1350.1,1031.0 1376.4,1031.0 1395.0,1037.9 1409.5,1031.0 1421.3,1031.0 1431.3,1031.0 1440.0,1037.9 1447.6,1041.7 1454.5,1037.9 1499.4,1078.0 1525.7,1084.2 1544.4,1084.2 1558.8,1084.2 1570.7,1084.2 1580.7,1084.2 1589.3,1084.2 1597.0,1084.2 1603.8,1084.2" fill="none" stroke="#0000d2" stroke-width="3.2" stroke-dasharray="6 7"/>
<polygon points="1149.4,114.6 1162.2,114.6 1155.8,127.4" fill="#000"/>
<polygon points="1194.4,59.4 1207.2,59.4 1200.8,72.2" fill="#000"/>
<polygon points="1220.7,113.3 1233.5,113.3 1227.1,126.1" fill="#000"/>
<polygon points="1239.3,135.8 1252.1,135.8 1245.7,148.6" fill="#000"/>
<polygon points="1253.8,115.8 1266.6,115.8 1260.2,128.6" fill="#000"/>
<polygon points="1265.6,85.6 1278.4,85.6 1272.0,98.4" fill="#000"/>
<polygon points="1275.6,155.8 1288.4,155.8 1282.0,168.6" fill="#000"/>
<polygon points="1284.3,80.6 1297.1,80.6 1290.7,93.4" fill="#000"/>
<polygon points="1291.9,90.6 1304.7,90.6 1298.3,103.4" fill="#000"/>
<polygon points="1298.7,189.6 1311.5,189.6 1305.1,202.4" fill="#000"/>
<polygon points="1343.7,242.3 1356.5,242.3 1350.1,255.1" fill="#ff0000"/>
<polygon points="1370.0,236.0 1382.8,236.0 1376.4,248.8" fill="#000"/>
<polygon points="1388.6,228.5 1401.4,228.5 1395.0,241.3" fill="#000"/>
<polygon points="1403.1,227.3 1415.9,227.3 1409.5,240.1" fill="#000"/>
<polygon points="1414.9,232.3 1427.7,232.3 1421.3,245.1" fill="#000"/>
<polygon points="1424.9,224.8 1437.7,224.8 1431.3,237.6" fill="#000"/>
<polygon points="1433.6,226.0 1446.4,226.0 1440.0,238.8" fill="#000"/>
<polygon points="1441.2,226.0 1454.0,226.0 1447.6,238.8" fill="#000"/>
<polygon points="1448.1,219.7 1460.9,219.7 1454.5,232.5" fill="#000"/>
<polygon points="1493.0,214.7 1505.8,214.7 1499.4,227.5" fill="#000"/>
<polygon points="1519.3,216.0 1532.1,216.0 1525.7,228.8" fill="#000"/>
<polygon points="1538.0,206.0 1550.8,206.0 1544.4,218.8" fill="#000"/>
<polygon points="1552.4,202.2 1565.2,202.2 1558.8,215.0" fill="#000"/>
<polygon points="1564.3,199.7 1577.1,199.7 1570.7,212.5" fill="#000"/>
<polygon points="1574.3,194.7 1587.1,194.7 1580.7,207.5" fill="#000"/>
<polygon points="1582.9,189.7 1595.7,189.7 1589.3,202.5" fill="#000"/>
<polygon points="1590.6,188.5 1603.4,188.5 1597.0,201.3" fill="#000"/>
<polygon points="1597.4,193.5 1610.2,193.5 1603.8,206.3" fill="#000"/>
<polygon points="1149.4,134.1 1162.2,134.1 1155.8,121.3" fill="#0000d2"/>
<polygon points="1194.4,139.1 1207.2,139.1 1200.8,126.3" fill="#0000d2"/>
<polygon points="1220.7,186.7 1233.5,186.7 1227.1,173.9" fill="#0000d2"/>
<polygon points="1239.3,202.9 1252.1,202.9 1245.7,190.1" fill="#0000d2"/>
<polygon points="1253.8,169.1 1266.6,169.1 1260.2,156.3" fill="#0000d2"/>
<polygon points="1265.6,162.9 1278.4,162.9 1272.0,150.1" fill="#0000d2"/>
<polygon points="1275.6,240.4 1288.4,240.4 1282.0,227.6" fill="#0000d2"/>
<polygon points="1284.3,175.4 1297.1,175.4 1290.7,162.6" fill="#0000d2"/>
<polygon points="1291.9,180.4 1304.7,180.4 1298.3,167.6" fill="#0000d2"/>
<polygon points="1298.7,259.3 1311.5,259.3 1305.1,246.5" fill="#0000d2"/>
<polygon points="1343.7,295.9 1356.5,295.9 1350.1,283.1" fill="#ff0000"/>
<polygon points="1370.0,296.4 1382.8,296.4 1376.4,283.6" fill="#0000d2"/>
<polygon points="1388.6,296.4 1401.4,296.4 1395.0,283.6" fill="#0000d2"/>
<polygon points="1403.1,296.4 1415.9,296.4 1409.5,283.6" fill="#0000d2"/>
<polygon points="1414.9,296.4 1427.7,296.4 1421.3,283.6" fill="#0000d2"/>
<polygon points="1424.9,296.4 1437.7,296.4 1431.3,283.6" fill="#0000d2"/>
<polygon points="1433.6,296.4 1446.4,296.4 1440.0,283.6" fill="#0000d2"/>
<polygon points="1441.2,296.4 1454.0,296.4 1447.6,283.6" fill="#0000d2"/>
<polygon points="1448.1,296.4 1460.9,296.4 1454.5,283.6" fill="#0000d2"/>
<polygon points="1493.0,296.4 1505.8,296.4 1499.4,283.6" fill="#0000d2"/>
<polygon points="1519.3,296.4 1532.1,296.4 1525.7,283.6" fill="#0000d2"/>
<polygon points="1538.0,296.4 1550.8,296.4 1544.4,283.6" fill="#0000d2"/>
<polygon points="1552.4,296.4 1565.2,296.4 1558.8,283.6" fill="#0000d2"/>
<polygon points="1564.3,296.4 1577.1,296.4 1570.7,283.6" fill="#0000d2"/>
<polygon points="1574.3,296.4 1587.1,296.4 1580.7,283.6" fill="#0000d2"/>
<polygon points="1582.9,296.4 1595.7,296.4 1589.3,283.6" fill="#0000d2"/>
<polygon points="1590.6,296.4 1603.4,296.4 1597.0,283.6" fill="#0000d2"/>
<polygon points="1597.4,296.4 1610.2,296.4 1603.8,283.6" fill="#0000d2"/>
<polygon points="1149.4,367.0 1162.2,367.0 1155.8,379.8" fill="#000"/>
<polygon points="1194.4,343.2 1207.2,343.2 1200.8,356.0" fill="#000"/>
<polygon points="1220.7,379.5 1233.5,379.5 1227.1,392.3" fill="#000"/>
<polygon points="1239.3,373.2 1252.1,373.2 1245.7,386.0" fill="#000"/>
<polygon points="1253.8,345.7 1266.6,345.7 1260.2,358.5" fill="#000"/>
<polygon points="1265.6,346.9 1278.4,346.9 1272.0,359.7" fill="#000"/>
<polygon points="1275.6,359.5 1288.4,359.5 1282.0,372.3" fill="#000"/>
<polygon points="1284.3,425.8 1297.1,425.8 1290.7,438.6" fill="#000"/>
<polygon points="1291.9,417.1 1304.7,417.1 1298.3,429.9" fill="#000"/>
<polygon points="1298.7,430.8 1311.5,430.8 1305.1,443.6" fill="#000"/>
<polygon points="1343.7,461.4 1356.5,461.4 1350.1,474.2" fill="#ff0000"/>
<polygon points="1370.0,452.1 1382.8,452.1 1376.4,464.9" fill="#000"/>
<polygon points="1388.6,457.8 1401.4,457.8 1395.0,470.6" fill="#000"/>
<polygon points="1403.1,453.4 1415.9,453.4 1409.5,466.2" fill="#000"/>
<polygon points="1414.9,452.1 1427.7,452.1 1421.3,464.9" fill="#000"/>
<polygon points="1424.9,450.9 1437.7,450.9 1431.3,463.7" fill="#000"/>
<polygon points="1433.6,450.9 1446.4,450.9 1440.0,463.7" fill="#000"/>
<polygon points="1441.2,450.4 1454.0,450.4 1447.6,463.2" fill="#000"/>
<polygon points="1448.1,448.4 1460.9,448.4 1454.5,461.2" fill="#000"/>
<polygon points="1493.0,438.9 1505.8,438.9 1499.4,451.7" fill="#000"/>
<polygon points="1519.3,442.1 1532.1,442.1 1525.7,454.9" fill="#000"/>
<polygon points="1538.0,433.4 1550.8,433.4 1544.4,446.2" fill="#000"/>
<polygon points="1552.4,428.4 1565.2,428.4 1558.8,441.2" fill="#000"/>
<polygon points="1564.3,425.9 1577.1,425.9 1570.7,438.7" fill="#000"/>
<polygon points="1574.3,424.6 1587.1,424.6 1580.7,437.4" fill="#000"/>
<polygon points="1582.9,417.1 1595.7,417.1 1589.3,429.9" fill="#000"/>
<polygon points="1590.6,415.8 1603.4,415.8 1597.0,428.6" fill="#000"/>
<polygon points="1597.4,413.3 1610.2,413.3 1603.8,426.1" fill="#000"/>
<polygon points="1149.4,386.5 1162.2,386.5 1155.8,373.7" fill="#0000d2"/>
<polygon points="1194.4,355.2 1207.2,355.2 1200.8,342.4" fill="#0000d2"/>
<polygon points="1220.7,461.7 1233.5,461.7 1227.1,448.9" fill="#0000d2"/>
<polygon points="1239.3,450.4 1252.1,450.4 1245.7,437.6" fill="#0000d2"/>
<polygon points="1253.8,402.8 1266.6,402.8 1260.2,390.0" fill="#0000d2"/>
<polygon points="1265.6,432.9 1278.4,432.9 1272.0,420.1" fill="#0000d2"/>
<polygon points="1275.6,472.9 1288.4,472.9 1282.0,460.1" fill="#0000d2"/>
<polygon points="1284.3,525.5 1297.1,525.5 1290.7,512.7" fill="#0000d2"/>
<polygon points="1291.9,503.0 1304.7,503.0 1298.3,490.2" fill="#0000d2"/>
<polygon points="1298.7,525.5 1311.5,525.5 1305.1,512.7" fill="#0000d2"/>
<polygon points="1343.7,544.4 1356.5,544.4 1350.1,531.6" fill="#ff0000"/>
<polygon points="1370.0,544.4 1382.8,544.4 1376.4,531.6" fill="#0000d2"/>
<polygon points="1388.6,544.4 1401.4,544.4 1395.0,531.6" fill="#0000d2"/>
<polygon points="1403.1,544.4 1415.9,544.4 1409.5,531.6" fill="#0000d2"/>
<polygon points="1414.9,544.4 1427.7,544.4 1421.3,531.6" fill="#0000d2"/>
<polygon points="1424.9,544.4 1437.7,544.4 1431.3,531.6" fill="#0000d2"/>
<polygon points="1433.6,544.4 1446.4,544.4 1440.0,531.6" fill="#0000d2"/>
<polygon points="1441.2,544.4 1454.0,544.4 1447.6,531.6" fill="#0000d2"/>
<polygon points="1448.1,544.4 1460.9,544.4 1454.5,531.6" fill="#0000d2"/>
<polygon points="1493.0,544.4 1505.8,544.4 1499.4,531.6" fill="#0000d2"/>
<polygon points="1519.3,544.4 1532.1,544.4 1525.7,531.6" fill="#0000d2"/>
<polygon points="1538.0,544.4 1550.8,544.4 1544.4,531.6" fill="#0000d2"/>
<polygon points="1552.4,560.6 1565.2,560.6 1558.8,547.8" fill="#0000d2"/>
<polygon points="1564.3,560.6 1577.1,560.6 1570.7,547.8" fill="#0000d2"/>
<polygon points="1574.3,560.6 1587.1,560.6 1580.7,547.8" fill="#0000d2"/>
<polygon points="1582.9,560.6 1595.7,560.6 1589.3,547.8" fill="#0000d2"/>
<polygon points="1590.6,560.6 1603.4,560.6 1597.0,547.8" fill="#0000d2"/>
<polygon points="1597.4,560.6 1610.2,560.6 1603.8,547.8" fill="#0000d2"/>
<polygon points="1149.4,615.7 1162.2,615.7 1155.8,628.5" fill="#000"/>
<polygon points="1194.4,652.0 1207.2,652.0 1200.8,664.8" fill="#000"/>
<polygon points="1220.7,627.0 1233.5,627.0 1227.1,639.8" fill="#000"/>
<polygon points="1239.3,630.7 1252.1,630.7 1245.7,643.5" fill="#000"/>
<polygon points="1253.8,633.2 1266.6,633.2 1260.2,646.0" fill="#000"/>
<polygon points="1265.6,643.2 1278.4,643.2 1272.0,656.0" fill="#000"/>
<polygon points="1275.6,673.3 1288.4,673.3 1282.0,686.1" fill="#000"/>
<polygon points="1284.3,655.8 1297.1,655.8 1290.7,668.6" fill="#000"/>
<polygon points="1291.9,660.8 1304.7,660.8 1298.3,673.6" fill="#000"/>
<polygon points="1298.7,683.8 1311.5,683.8 1305.1,696.6" fill="#ff0000"/>
<polygon points="1343.7,668.3 1356.5,668.3 1350.1,681.1" fill="#000"/>
<polygon points="1370.0,665.3 1382.8,665.3 1376.4,678.1" fill="#000"/>
<polygon points="1388.6,669.2 1401.4,669.2 1395.0,682.0" fill="#000"/>
<polygon points="1403.1,664.6 1415.9,664.6 1409.5,677.4" fill="#000"/>
<polygon points="1414.9,662.8 1427.7,662.8 1421.3,675.6" fill="#000"/>
<polygon points="1424.9,662.1 1437.7,662.1 1431.3,674.9" fill="#000"/>
<polygon points="1433.6,663.3 1446.4,663.3 1440.0,676.1" fill="#000"/>
<polygon points="1441.2,662.1 1454.0,662.1 1447.6,674.9" fill="#000"/>
<polygon points="1448.1,660.8 1460.9,660.8 1454.5,673.6" fill="#000"/>
<polygon points="1493.0,653.8 1505.8,653.8 1499.4,666.6" fill="#000"/>
<polygon points="1519.3,651.3 1532.1,651.3 1525.7,664.1" fill="#000"/>
<polygon points="1538.0,649.5 1550.8,649.5 1544.4,662.3" fill="#000"/>
<polygon points="1552.4,648.3 1565.2,648.3 1558.8,661.1" fill="#000"/>
<polygon points="1564.3,644.5 1577.1,644.5 1570.7,657.3" fill="#000"/>
<polygon points="1574.3,648.3 1587.1,648.3 1580.7,661.1" fill="#000"/>
<polygon points="1582.9,645.8 1595.7,645.8 1589.3,658.6" fill="#000"/>
<polygon points="1590.6,650.8 1603.4,650.8 1597.0,663.6" fill="#000"/>
<polygon points="1597.4,642.0 1610.2,642.0 1603.8,654.8" fill="#000"/>
<polygon points="1149.4,655.3 1162.2,655.3 1155.8,642.5" fill="#0000d2"/>
<polygon points="1194.4,725.4 1207.2,725.4 1200.8,712.6" fill="#0000d2"/>
<polygon points="1220.7,696.6 1233.5,696.6 1227.1,683.8" fill="#0000d2"/>
<polygon points="1239.3,725.4 1252.1,725.4 1245.7,712.6" fill="#0000d2"/>
<polygon points="1253.8,736.7 1266.6,736.7 1260.2,723.9" fill="#0000d2"/>
<polygon points="1265.6,742.9 1278.4,742.9 1272.0,730.1" fill="#0000d2"/>
<polygon points="1275.6,770.5 1288.4,770.5 1282.0,757.7" fill="#0000d2"/>
<polygon points="1284.3,760.5 1297.1,760.5 1290.7,747.7" fill="#0000d2"/>
<polygon points="1291.9,766.7 1304.7,766.7 1298.3,753.9" fill="#0000d2"/>
<polygon points="1298.7,791.3 1311.5,791.3 1305.1,778.5" fill="#ff0000"/>
<polygon points="1343.7,790.9 1356.5,790.9 1350.1,778.1" fill="#0000d2"/>
<polygon points="1370.0,790.9 1382.8,790.9 1376.4,778.1" fill="#0000d2"/>
<polygon points="1388.6,790.9 1401.4,790.9 1395.0,778.1" fill="#0000d2"/>
<polygon points="1403.1,790.9 1415.9,790.9 1409.5,778.1" fill="#0000d2"/>
<polygon points="1414.9,790.9 1427.7,790.9 1421.3,778.1" fill="#0000d2"/>
<polygon points="1424.9,790.9 1437.7,790.9 1431.3,778.1" fill="#0000d2"/>
<polygon points="1433.6,790.9 1446.4,790.9 1440.0,778.1" fill="#0000d2"/>
<polygon points="1441.2,790.9 1454.0,790.9 1447.6,778.1" fill="#0000d2"/>
<polygon points="1448.1,790.9 1460.9,790.9 1454.5,778.1" fill="#0000d2"/>
<polygon points="1493.0,790.9 1505.8,790.9 1499.4,778.1" fill="#0000d2"/>
<polygon points="1519.3,825.6 1532.1,825.6 1525.7,812.8" fill="#0000d2"/>
<polygon points="1538.0,825.6 1550.8,825.6 1544.4,812.8" fill="#0000d2"/>
<polygon points="1552.4,825.6 1565.2,825.6 1558.8,812.8" fill="#0000d2"/>
<polygon points="1564.3,825.6 1577.1,825.6 1570.7,812.8" fill="#0000d2"/>
<polygon points="1574.3,825.6 1587.1,825.6 1580.7,812.8" fill="#0000d2"/>
<polygon points="1582.9,825.6 1595.7,825.6 1589.3,812.8" fill="#0000d2"/>
<polygon points="1590.6,825.6 1603.4,825.6 1597.0,812.8" fill="#0000d2"/>
<polygon points="1597.4,825.6 1610.2,825.6 1603.8,812.8" fill="#0000d2"/>
<polygon points="1149.4,870.7 1162.2,870.7 1155.8,883.5" fill="#000"/>
<polygon points="1194.4,904.5 1207.2,904.5 1200.8,917.3" fill="#000"/>
<polygon points="1220.7,898.2 1233.5,898.2 1227.1,911.0" fill="#000"/>
<polygon points="1239.3,897.0 1252.1,897.0 1245.7,909.8" fill="#000"/>
<polygon points="1253.8,881.9 1266.6,881.9 1260.2,894.7" fill="#000"/>
<polygon points="1265.6,922.0 1278.4,922.0 1272.0,934.8" fill="#000"/>
<polygon points="1275.6,929.5 1288.4,929.5 1282.0,942.3" fill="#ff0000"/>
<polygon points="1284.3,918.3 1297.1,918.3 1290.7,931.1" fill="#000"/>
<polygon points="1291.9,920.8 1304.7,920.8 1298.3,933.6" fill="#000"/>
<polygon points="1298.7,907.0 1311.5,907.0 1305.1,919.8" fill="#000"/>
<polygon points="1343.7,912.0 1356.5,912.0 1350.1,924.8" fill="#000"/>
<polygon points="1370.0,909.5 1382.8,909.5 1376.4,922.3" fill="#000"/>
<polygon points="1388.6,903.2 1401.4,903.2 1395.0,916.0" fill="#000"/>
<polygon points="1403.1,902.0 1415.9,902.0 1409.5,914.8" fill="#000"/>
<polygon points="1414.9,904.5 1427.7,904.5 1421.3,917.3" fill="#000"/>
<polygon points="1424.9,903.2 1437.7,903.2 1431.3,916.0" fill="#000"/>
<polygon points="1433.6,902.0 1446.4,902.0 1440.0,914.8" fill="#000"/>
<polygon points="1441.2,899.5 1454.0,899.5 1447.6,912.3" fill="#000"/>
<polygon points="1448.1,898.2 1460.9,898.2 1454.5,911.0" fill="#000"/>
<polygon points="1493.0,897.0 1505.8,897.0 1499.4,909.8" fill="#000"/>
<polygon points="1519.3,899.5 1532.1,899.5 1525.7,912.3" fill="#000"/>
<polygon points="1538.0,897.0 1550.8,897.0 1544.4,909.8" fill="#000"/>
<polygon points="1552.4,903.2 1565.2,903.2 1558.8,916.0" fill="#000"/>
<polygon points="1564.3,907.0 1577.1,907.0 1570.7,919.8" fill="#000"/>
<polygon points="1574.3,913.3 1587.1,913.3 1580.7,926.1" fill="#000"/>
<polygon points="1149.4,910.3 1162.2,910.3 1155.8,897.5" fill="#0000d2"/>
<polygon points="1194.4,964.1 1207.2,964.1 1200.8,951.3" fill="#0000d2"/>
<polygon points="1220.7,970.4 1233.5,970.4 1227.1,957.6" fill="#0000d2"/>
<polygon points="1239.3,974.1 1252.1,974.1 1245.7,961.3" fill="#0000d2"/>
<polygon points="1253.8,967.9 1266.6,967.9 1260.2,955.1" fill="#0000d2"/>
<polygon points="1265.6,1012.9 1278.4,1012.9 1272.0,1000.1" fill="#0000d2"/>
<polygon points="1275.6,1034.2 1288.4,1034.2 1282.0,1021.4" fill="#0000d2"/>
<polygon points="1284.3,1020.4 1297.1,1020.4 1290.7,1007.6" fill="#0000d2"/>
<polygon points="1291.9,1035.5 1304.7,1035.5 1298.3,1022.7" fill="#0000d2"/>
<polygon points="1298.7,1036.7 1311.5,1036.7 1305.1,1023.9" fill="#ff0000"/>
<polygon points="1343.7,1037.4 1356.5,1037.4 1350.1,1024.6" fill="#0000d2"/>
<polygon points="1370.0,1037.4 1382.8,1037.4 1376.4,1024.6" fill="#0000d2"/>
<polygon points="1388.6,1044.3 1401.4,1044.3 1395.0,1031.5" fill="#0000d2"/>
<polygon points="1403.1,1037.4 1415.9,1037.4 1409.5,1024.6" fill="#0000d2"/>
<polygon points="1414.9,1037.4 1427.7,1037.4 1421.3,1024.6" fill="#0000d2"/>
<polygon points="1424.9,1037.4 1437.7,1037.4 1431.3,1024.6" fill="#0000d2"/>
<polygon points="1433.6,1044.3 1446.4,1044.3 1440.0,1031.5" fill="#0000d2"/>
<polygon points="1441.2,1048.1 1454.0,1048.1 1447.6,1035.3" fill="#0000d2"/>
<polygon points="1448.1,1044.3 1460.9,1044.3 1454.5,1031.5" fill="#0000d2"/>
<polygon points="1493.0,1084.4 1505.8,1084.4 1499.4,1071.6" fill="#0000d2"/>
<polygon points="1519.3,1090.6 1532.1,1090.6 1525.7,1077.8" fill="#0000d2"/>
<polygon points="1538.0,1090.6 1550.8,1090.6 1544.4,1077.8" fill="#0000d2"/>
<polygon points="1552.4,1090.6 1565.2,1090.6 1558.8,1077.8" fill="#0000d2"/>
<polygon points="1564.3,1090.6 1577.1,1090.6 1570.7,1077.8" fill="#0000d2"/>
<polygon points="1574.3,1090.6 1587.1,1090.6 1580.7,1077.8" fill="#0000d2"/>
<polygon points="1582.9,1090.6 1595.7,1090.6 1589.3,1077.8" fill="#0000d2"/>
<polygon points="1590.6,1090.6 1603.4,1090.6 1597.0,1077.8" fill="#0000d2"/>
<polygon points="1597.4,1090.6 1610.2,1090.6 1603.8,1077.8" fill="#0000d2"/>
<text transform="translate(1093.5,188.2) rotate(-90)" text-anchor="middle" font-family="'Liberation Serif', serif" font-weight="bold" font-size="37.6" fill="#0000d2"># Sub-Regions</text>
<text transform="translate(1093.5,458) rotate(-90)" text-anchor="middle" font-family="'Liberation Serif', serif" font-weight="bold" font-size="37.6" fill="#0000d2"># Sub-Regions</text>
<text transform="translate(1093.5,722) rotate(-90)" text-anchor="middle" font-family="'Liberation Serif', serif" font-weight="bold" font-size="37.6" fill="#0000d2"># Sub-Regions</text>
<text transform="translate(1093.5,986) rotate(-90)" text-anchor="middle" font-family="'Liberation Serif', serif" font-weight="bold" font-size="37.6" fill="#0000d2"># Sub-Regions</text>
<text transform="translate(1692,166.5) rotate(90)" text-anchor="middle" font-family="'Liberation Serif', serif" font-weight="bold" font-size="37" fill="#000">Blur Rate</text>
<text transform="translate(1692,437.2) rotate(90)" text-anchor="middle" font-family="'Liberation Serif', serif" font-weight="bold" font-size="37" fill="#000">Blur Rate</text>
<text transform="translate(1692,699.6) rotate(90)" text-anchor="middle" font-family="'Liberation Serif', serif" font-weight="bold" font-size="37" fill="#000">Blur Rate</text>
<text transform="translate(1692,964.6) rotate(90)" text-anchor="middle" font-family="'Liberation Serif', serif" font-weight="bold" font-size="37" fill="#000">Blur Rate</text>
<text x="1130.3" y="1149" font-family="'Liberation Sans', sans-serif" font-size="31">10<tspan font-size="21" dy="-8.5">-3</tspan></text>
<text x="1279.6" y="1149" font-family="'Liberation Sans', sans-serif" font-size="31">10<tspan font-size="21" dy="-8.5">-2</tspan></text>
<text x="1429.0" y="1149" font-family="'Liberation Sans', sans-serif" font-size="31">10<tspan font-size="21" dy="-8.5">-1</tspan></text>
<text x="1578.3" y="1149" font-family="'Liberation Sans', sans-serif" font-size="31">10<tspan font-size="21" dy="-8.5">0</tspan></text>
<text x="1261.5" y="1185" font-family="'Liberation Serif', serif" font-weight="bold" font-size="36.8">Hyperparameter</text>
<text x="1019.5" y="37.5" font-family="'Liberation Serif', serif" font-weight="bold" font-size="49.5" letter-spacing="0.6">(b)</text>
<text x="1163.5" y="295.1" font-family="'Liberation Serif', serif" font-size="37.6">1 stimulus</text>
<text x="1161.5" y="559.2" font-family="'Liberation Serif', serif" font-size="37.6">2 stimuli</text>
<text x="1167.5" y="824" font-family="'Liberation Serif', serif" font-size="37.6">3 stimuli</text>
<text x="1164" y="1089" font-family="'Liberation Serif', serif" font-size="37.6">4 stimuli</text>
<polygon points="1391.9,72.7 1404.7,72.7 1398.3,59.9" fill="#0000d2"/>
<polygon points="1392.4,96.2 1405.2,96.2 1398.8,109.0" fill="#000"/>
<text transform="translate(1427,74) scale(1.025,1)" font-family="'Liberation Serif', serif" font-weight="bold" font-size="30.5" fill="#0000d2">Our Method</text>
<text x="1431" y="112.7" font-family="'Liberation Serif', serif" font-weight="bold" font-size="30.5" fill="#000">BestRes</text>
<text transform="translate(1355.5,206.8) scale(1.3,1)" font-family="'Liberation Serif', serif" font-style="italic" font-size="29.5" fill="#ff0000">&#945;</text>
<text transform="translate(1376,214) scale(1.04,1)" font-family="'Liberation Sans', sans-serif" font-style="italic" font-size="24.5" fill="#ff0000">BestRes</text>
<text transform="translate(1353.5,273) scale(1.3,1)" font-family="'Liberation Serif', serif" font-style="italic" font-size="29.5" fill="#ff0000">&#945;</text>
<text transform="translate(1373,279.8) scale(1.06,1)" font-family="'Liberation Sans', sans-serif" font-style="italic" font-size="24.5" fill="#ff0000">our</text>
</svg>
</body></html>
